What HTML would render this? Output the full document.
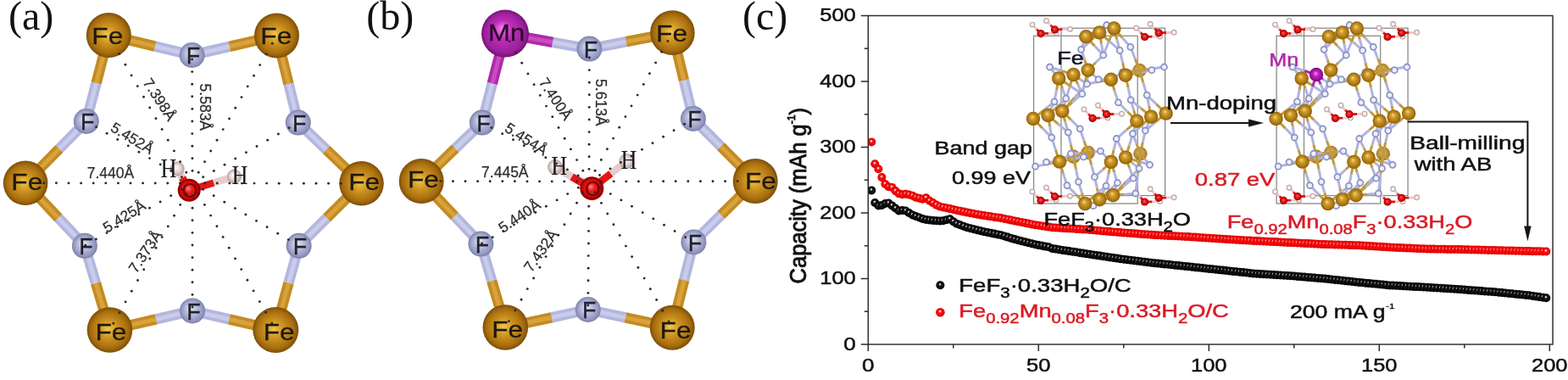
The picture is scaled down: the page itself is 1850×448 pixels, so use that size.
<!DOCTYPE html><html><head><meta charset="utf-8"><style>html,body{margin:0;padding:0;background:#fff;}svg{display:block;filter:blur(0.45px);}</style></head><body><svg width="1850" height="448" viewBox="0 0 1850 448" font-family="'Liberation Sans', Arial, sans-serif"><defs>
<radialGradient id="gFe" cx="0.5" cy="0.5" r="0.5" fx="0.45" fy="0.48">
 <stop offset="0" stop-color="#f2c64a"/><stop offset="0.4" stop-color="#cd9320"/>
 <stop offset="0.82" stop-color="#a66c0e"/><stop offset="1" stop-color="#7a4e08"/></radialGradient>
<radialGradient id="gF" cx="0.5" cy="0.5" r="0.5" fx="0.42" fy="0.38">
 <stop offset="0" stop-color="#e6e8f6"/><stop offset="0.45" stop-color="#b9bddc"/>
 <stop offset="0.85" stop-color="#9096bf"/><stop offset="1" stop-color="#7a80a8"/></radialGradient>
<radialGradient id="gMn" cx="0.5" cy="0.5" r="0.5" fx="0.42" fy="0.38">
 <stop offset="0" stop-color="#f080ea"/><stop offset="0.4" stop-color="#c02cbc"/>
 <stop offset="0.85" stop-color="#98209a"/><stop offset="1" stop-color="#741070"/></radialGradient>
<radialGradient id="gO" cx="0.5" cy="0.5" r="0.5" fx="0.45" fy="0.42">
 <stop offset="0" stop-color="#ff8a8a"/><stop offset="0.3" stop-color="#ee2020"/>
 <stop offset="0.75" stop-color="#d00808"/><stop offset="0.88" stop-color="#8a0000"/><stop offset="1" stop-color="#b00000"/></radialGradient>
<radialGradient id="gH" cx="0.5" cy="0.5" r="0.5" fx="0.42" fy="0.38">
 <stop offset="0" stop-color="#ffffff"/><stop offset="0.5" stop-color="#eadada"/>
 <stop offset="1" stop-color="#b89c9c"/></radialGradient>
<radialGradient id="gBk" cx="0.5" cy="0.5" r="0.5" fx="0.45" fy="0.36">
 <stop offset="0" stop-color="#ffffff"/><stop offset="0.16" stop-color="#bbbbbb"/><stop offset="0.34" stop-color="#1a1a1a"/>
 <stop offset="1" stop-color="#000000"/></radialGradient>
<radialGradient id="gRd" cx="0.5" cy="0.5" r="0.5" fx="0.45" fy="0.36">
 <stop offset="0" stop-color="#ffffff"/><stop offset="0.16" stop-color="#ffb8b8"/><stop offset="0.36" stop-color="#ff1212"/>
 <stop offset="1" stop-color="#dc0000"/></radialGradient>
<radialGradient id="gFes" cx="0.5" cy="0.5" r="0.5" fx="0.42" fy="0.36">
 <stop offset="0" stop-color="#f4d884"/><stop offset="0.35" stop-color="#cf9c2c"/>
 <stop offset="0.8" stop-color="#a8740f"/><stop offset="1" stop-color="#8a5c08"/></radialGradient>
<radialGradient id="gMns" cx="0.5" cy="0.5" r="0.5" fx="0.45" fy="0.4">
 <stop offset="0" stop-color="#f090f0"/><stop offset="0.4" stop-color="#c020c0"/>
 <stop offset="1" stop-color="#800880"/></radialGradient>
</defs><rect width="1850" height="448" fill="#ffffff"/><line x1="128.3" y1="41.5" x2="183.0" y2="54.6" stroke="#c38b22" stroke-width="12.5"/><line x1="183.0" y1="54.6" x2="226.6" y2="65.0" stroke="#b3b7dd" stroke-width="12.5"/><line x1="128.3" y1="41.5" x2="183.0" y2="54.6" stroke="#d9a23c" stroke-width="5.0"/><line x1="183.0" y1="54.6" x2="226.6" y2="65.0" stroke="#c9cceb" stroke-width="5.0"/><line x1="226.6" y1="65.0" x2="270.9" y2="54.8" stroke="#b3b7dd" stroke-width="12.5"/><line x1="270.9" y1="54.8" x2="326.5" y2="42.0" stroke="#c38b22" stroke-width="12.5"/><line x1="226.6" y1="65.0" x2="270.9" y2="54.8" stroke="#c9cceb" stroke-width="5.0"/><line x1="270.9" y1="54.8" x2="326.5" y2="42.0" stroke="#d9a23c" stroke-width="5.0"/><line x1="326.5" y1="42.0" x2="340.5" y2="98.9" stroke="#c38b22" stroke-width="12.5"/><line x1="340.5" y1="98.9" x2="351.8" y2="144.6" stroke="#b3b7dd" stroke-width="12.5"/><line x1="326.5" y1="42.0" x2="340.5" y2="98.9" stroke="#d9a23c" stroke-width="5.0"/><line x1="340.5" y1="98.9" x2="351.8" y2="144.6" stroke="#c9cceb" stroke-width="5.0"/><line x1="351.8" y1="144.6" x2="385.1" y2="176.5" stroke="#b3b7dd" stroke-width="12.5"/><line x1="385.1" y1="176.5" x2="426.5" y2="216.3" stroke="#c38b22" stroke-width="12.5"/><line x1="351.8" y1="144.6" x2="385.1" y2="176.5" stroke="#c9cceb" stroke-width="5.0"/><line x1="385.1" y1="176.5" x2="426.5" y2="216.3" stroke="#d9a23c" stroke-width="5.0"/><line x1="426.5" y1="216.3" x2="385.5" y2="257.0" stroke="#c38b22" stroke-width="12.5"/><line x1="385.5" y1="257.0" x2="352.6" y2="289.8" stroke="#b3b7dd" stroke-width="12.5"/><line x1="426.5" y1="216.3" x2="385.5" y2="257.0" stroke="#d9a23c" stroke-width="5.0"/><line x1="385.5" y1="257.0" x2="352.6" y2="289.8" stroke="#c9cceb" stroke-width="5.0"/><line x1="352.6" y1="289.8" x2="340.5" y2="333.6" stroke="#b3b7dd" stroke-width="12.5"/><line x1="340.5" y1="333.6" x2="325.3" y2="389.0" stroke="#c38b22" stroke-width="12.5"/><line x1="352.6" y1="289.8" x2="340.5" y2="333.6" stroke="#c9cceb" stroke-width="5.0"/><line x1="340.5" y1="333.6" x2="325.3" y2="389.0" stroke="#d9a23c" stroke-width="5.0"/><line x1="325.3" y1="389.0" x2="270.3" y2="376.4" stroke="#c38b22" stroke-width="12.5"/><line x1="270.3" y1="376.4" x2="227.0" y2="366.4" stroke="#b3b7dd" stroke-width="12.5"/><line x1="325.3" y1="389.0" x2="270.3" y2="376.4" stroke="#d9a23c" stroke-width="5.0"/><line x1="270.3" y1="376.4" x2="227.0" y2="366.4" stroke="#c9cceb" stroke-width="5.0"/><line x1="227.0" y1="366.4" x2="184.0" y2="376.4" stroke="#b3b7dd" stroke-width="12.5"/><line x1="184.0" y1="376.4" x2="129.5" y2="389.0" stroke="#c38b22" stroke-width="12.5"/><line x1="227.0" y1="366.4" x2="184.0" y2="376.4" stroke="#c9cceb" stroke-width="5.0"/><line x1="184.0" y1="376.4" x2="129.5" y2="389.0" stroke="#d9a23c" stroke-width="5.0"/><line x1="129.5" y1="389.0" x2="113.0" y2="333.7" stroke="#c38b22" stroke-width="12.5"/><line x1="113.0" y1="333.7" x2="99.9" y2="289.8" stroke="#b3b7dd" stroke-width="12.5"/><line x1="129.5" y1="389.0" x2="113.0" y2="333.7" stroke="#d9a23c" stroke-width="5.0"/><line x1="113.0" y1="333.7" x2="99.9" y2="289.8" stroke="#c9cceb" stroke-width="5.0"/><line x1="99.9" y1="289.8" x2="68.9" y2="256.9" stroke="#b3b7dd" stroke-width="12.5"/><line x1="68.9" y1="256.9" x2="30.1" y2="215.8" stroke="#c38b22" stroke-width="12.5"/><line x1="99.9" y1="289.8" x2="68.9" y2="256.9" stroke="#c9cceb" stroke-width="5.0"/><line x1="68.9" y1="256.9" x2="30.1" y2="215.8" stroke="#d9a23c" stroke-width="5.0"/><line x1="30.1" y1="215.8" x2="69.9" y2="175.4" stroke="#c38b22" stroke-width="12.5"/><line x1="69.9" y1="175.4" x2="101.8" y2="143.0" stroke="#b3b7dd" stroke-width="12.5"/><line x1="30.1" y1="215.8" x2="69.9" y2="175.4" stroke="#d9a23c" stroke-width="5.0"/><line x1="69.9" y1="175.4" x2="101.8" y2="143.0" stroke="#c9cceb" stroke-width="5.0"/><line x1="101.8" y1="143.0" x2="113.6" y2="97.8" stroke="#b3b7dd" stroke-width="12.5"/><line x1="113.6" y1="97.8" x2="128.3" y2="41.5" stroke="#c38b22" stroke-width="12.5"/><line x1="101.8" y1="143.0" x2="113.6" y2="97.8" stroke="#c9cceb" stroke-width="5.0"/><line x1="113.6" y1="97.8" x2="128.3" y2="41.5" stroke="#d9a23c" stroke-width="5.0"/><circle cx="128.3" cy="41.5" r="26.5" fill="url(#gFe)"/><circle cx="226.6" cy="65.0" r="15" fill="url(#gF)"/><circle cx="326.5" cy="42.0" r="26.5" fill="url(#gFe)"/><circle cx="351.8" cy="144.6" r="15" fill="url(#gF)"/><circle cx="426.5" cy="216.3" r="26.3" fill="url(#gFe)"/><circle cx="352.6" cy="289.8" r="15" fill="url(#gF)"/><circle cx="325.3" cy="389.0" r="27" fill="url(#gFe)"/><circle cx="227.0" cy="366.4" r="15" fill="url(#gF)"/><circle cx="129.5" cy="389.0" r="26.8" fill="url(#gFe)"/><circle cx="99.9" cy="289.8" r="15" fill="url(#gF)"/><circle cx="30.1" cy="215.8" r="26.3" fill="url(#gFe)"/><circle cx="101.8" cy="143.0" r="15" fill="url(#gF)"/><line x1="223.2" y1="224.2" x2="215.0" y2="209.5" stroke="#e01818" stroke-width="9"/><line x1="215.0" y1="209.5" x2="209.2" y2="199.1" stroke="#e6cccc" stroke-width="9"/><line x1="223.2" y1="224.2" x2="252.2" y2="215.5" stroke="#e01818" stroke-width="8.5"/><line x1="252.2" y1="215.5" x2="276.4" y2="208.2" stroke="#e6cccc" stroke-width="8.5"/><circle cx="209.2" cy="199.1" r="8.5" fill="url(#gH)"/><circle cx="276.4" cy="208.2" r="8.5" fill="url(#gH)"/><circle cx="223.2" cy="224.2" r="13.5" fill="url(#gO)"/><text x="126.8" y="52.0" font-size="28.5" text-anchor="middle" fill="#1e1a10" stroke="#1e1a10" stroke-width="0.3" textLength="37" lengthAdjust="spacingAndGlyphs">Fe</text><text x="228.1" y="75.3" font-size="27" text-anchor="middle" fill="#20222e" stroke="#20222e" stroke-width="0.3">F</text><text x="325.8" y="51.7" font-size="28.5" text-anchor="middle" fill="#1e1a10" stroke="#1e1a10" stroke-width="0.3" textLength="37" lengthAdjust="spacingAndGlyphs">Fe</text><text x="353.3" y="154.9" font-size="27" text-anchor="middle" fill="#20222e" stroke="#20222e" stroke-width="0.3">F</text><text x="429.7" y="224.4" font-size="28.5" text-anchor="middle" fill="#1e1a10" stroke="#1e1a10" stroke-width="0.3" textLength="37" lengthAdjust="spacingAndGlyphs">Fe</text><text x="354.1" y="300.1" font-size="27" text-anchor="middle" fill="#20222e" stroke="#20222e" stroke-width="0.3">F</text><text x="329.2" y="400.9" font-size="28.5" text-anchor="middle" fill="#1e1a10" stroke="#1e1a10" stroke-width="0.3" textLength="37" lengthAdjust="spacingAndGlyphs">Fe</text><text x="228.5" y="376.7" font-size="27" text-anchor="middle" fill="#20222e" stroke="#20222e" stroke-width="0.3">F</text><text x="131.0" y="401.3" font-size="28.5" text-anchor="middle" fill="#1e1a10" stroke="#1e1a10" stroke-width="0.3" textLength="37" lengthAdjust="spacingAndGlyphs">Fe</text><text x="101.4" y="300.1" font-size="27" text-anchor="middle" fill="#20222e" stroke="#20222e" stroke-width="0.3">F</text><text x="31.8" y="224.2" font-size="28.5" text-anchor="middle" fill="#1e1a10" stroke="#1e1a10" stroke-width="0.3" textLength="37" lengthAdjust="spacingAndGlyphs">Fe</text><text x="103.3" y="153.3" font-size="27" text-anchor="middle" fill="#20222e" stroke="#20222e" stroke-width="0.3">F</text><text x="224.2" y="233.2" font-size="24" text-anchor="middle" fill="#7a0000">O</text><text x="199.0" y="209.0" font-size="32" font-family="'Liberation Serif', 'Times New Roman', serif" text-anchor="middle" fill="#1a1a1a" textLength="19" lengthAdjust="spacingAndGlyphs">H</text><text x="283.0" y="217.0" font-size="32" font-family="'Liberation Serif', 'Times New Roman', serif" text-anchor="middle" fill="#1a1a1a" textLength="19" lengthAdjust="spacingAndGlyphs">H</text><g fill="#2a2a2a"><circle cx="219.8" cy="203.3" r="1.45"/><circle cx="212.6" cy="190.6" r="1.45"/><circle cx="205.4" cy="177.9" r="1.45"/><circle cx="198.2" cy="165.2" r="1.45"/><circle cx="191.1" cy="152.5" r="1.45"/><circle cx="183.9" cy="139.8" r="1.45"/><circle cx="176.7" cy="127.0" r="1.45"/><circle cx="169.5" cy="114.3" r="1.45"/><circle cx="162.3" cy="101.6" r="1.45"/><circle cx="155.1" cy="88.9" r="1.45"/><circle cx="147.9" cy="76.2" r="1.45"/><circle cx="140.7" cy="63.5" r="1.45"/><circle cx="133.6" cy="50.8" r="1.45"/><circle cx="227.0" cy="201.4" r="1.45"/><circle cx="226.9" cy="186.8" r="1.45"/><circle cx="226.9" cy="172.2" r="1.45"/><circle cx="226.8" cy="157.6" r="1.45"/><circle cx="226.8" cy="143.0" r="1.45"/><circle cx="226.8" cy="128.4" r="1.45"/><circle cx="226.7" cy="113.8" r="1.45"/><circle cx="226.7" cy="99.2" r="1.45"/><circle cx="226.7" cy="84.6" r="1.45"/><circle cx="226.6" cy="70.0" r="1.45"/><circle cx="234.2" cy="203.3" r="1.45"/><circle cx="241.5" cy="190.7" r="1.45"/><circle cx="248.7" cy="178.0" r="1.45"/><circle cx="256.0" cy="165.3" r="1.45"/><circle cx="263.2" cy="152.6" r="1.45"/><circle cx="270.5" cy="140.0" r="1.45"/><circle cx="277.7" cy="127.3" r="1.45"/><circle cx="285.0" cy="114.6" r="1.45"/><circle cx="292.2" cy="101.9" r="1.45"/><circle cx="299.5" cy="89.3" r="1.45"/><circle cx="306.7" cy="76.6" r="1.45"/><circle cx="314.0" cy="63.9" r="1.45"/><circle cx="321.2" cy="51.2" r="1.45"/><circle cx="239.7" cy="208.7" r="1.45"/><circle cx="252.3" cy="201.5" r="1.45"/><circle cx="265.0" cy="194.2" r="1.45"/><circle cx="277.7" cy="187.0" r="1.45"/><circle cx="290.4" cy="179.7" r="1.45"/><circle cx="303.0" cy="172.5" r="1.45"/><circle cx="315.7" cy="165.2" r="1.45"/><circle cx="328.4" cy="158.0" r="1.45"/><circle cx="341.1" cy="150.7" r="1.45"/><circle cx="241.6" cy="216.0" r="1.45"/><circle cx="256.2" cy="216.0" r="1.45"/><circle cx="270.8" cy="216.1" r="1.45"/><circle cx="285.4" cy="216.1" r="1.45"/><circle cx="300.0" cy="216.1" r="1.45"/><circle cx="314.6" cy="216.1" r="1.45"/><circle cx="329.2" cy="216.2" r="1.45"/><circle cx="343.8" cy="216.2" r="1.45"/><circle cx="358.4" cy="216.2" r="1.45"/><circle cx="373.0" cy="216.2" r="1.45"/><circle cx="387.6" cy="216.2" r="1.45"/><circle cx="402.2" cy="216.3" r="1.45"/><circle cx="416.8" cy="216.3" r="1.45"/><circle cx="239.6" cy="223.4" r="1.45"/><circle cx="252.2" cy="230.8" r="1.45"/><circle cx="264.8" cy="238.2" r="1.45"/><circle cx="277.4" cy="245.6" r="1.45"/><circle cx="289.9" cy="253.0" r="1.45"/><circle cx="302.5" cy="260.4" r="1.45"/><circle cx="315.1" cy="267.8" r="1.45"/><circle cx="327.7" cy="275.2" r="1.45"/><circle cx="340.3" cy="282.6" r="1.45"/><circle cx="234.2" cy="228.7" r="1.45"/><circle cx="241.4" cy="241.4" r="1.45"/><circle cx="248.6" cy="254.1" r="1.45"/><circle cx="255.9" cy="266.8" r="1.45"/><circle cx="263.1" cy="279.5" r="1.45"/><circle cx="270.3" cy="292.2" r="1.45"/><circle cx="277.5" cy="304.9" r="1.45"/><circle cx="284.7" cy="317.6" r="1.45"/><circle cx="291.9" cy="330.2" r="1.45"/><circle cx="299.1" cy="342.9" r="1.45"/><circle cx="306.3" cy="355.6" r="1.45"/><circle cx="313.6" cy="368.3" r="1.45"/><circle cx="320.8" cy="381.0" r="1.45"/><circle cx="227.0" cy="230.6" r="1.45"/><circle cx="227.0" cy="245.2" r="1.45"/><circle cx="227.0" cy="259.8" r="1.45"/><circle cx="227.0" cy="274.4" r="1.45"/><circle cx="227.0" cy="289.0" r="1.45"/><circle cx="227.0" cy="303.6" r="1.45"/><circle cx="227.0" cy="318.2" r="1.45"/><circle cx="227.0" cy="332.8" r="1.45"/><circle cx="227.0" cy="347.4" r="1.45"/><circle cx="227.0" cy="362.0" r="1.45"/><circle cx="219.8" cy="228.7" r="1.45"/><circle cx="212.7" cy="241.4" r="1.45"/><circle cx="205.5" cy="254.2" r="1.45"/><circle cx="198.3" cy="266.9" r="1.45"/><circle cx="191.2" cy="279.6" r="1.45"/><circle cx="184.0" cy="292.3" r="1.45"/><circle cx="176.8" cy="305.0" r="1.45"/><circle cx="169.7" cy="317.8" r="1.45"/><circle cx="162.5" cy="330.5" r="1.45"/><circle cx="155.3" cy="343.2" r="1.45"/><circle cx="148.1" cy="355.9" r="1.45"/><circle cx="141.0" cy="368.6" r="1.45"/><circle cx="133.8" cy="381.3" r="1.45"/><circle cx="214.4" cy="223.3" r="1.45"/><circle cx="201.7" cy="230.7" r="1.45"/><circle cx="189.1" cy="238.0" r="1.45"/><circle cx="176.5" cy="245.3" r="1.45"/><circle cx="163.9" cy="252.7" r="1.45"/><circle cx="151.2" cy="260.0" r="1.45"/><circle cx="138.6" cy="267.3" r="1.45"/><circle cx="126.0" cy="274.6" r="1.45"/><circle cx="113.4" cy="282.0" r="1.45"/><circle cx="100.7" cy="289.3" r="1.45"/><circle cx="212.4" cy="216.0" r="1.45"/><circle cx="197.8" cy="216.0" r="1.45"/><circle cx="183.2" cy="216.0" r="1.45"/><circle cx="168.6" cy="215.9" r="1.45"/><circle cx="154.0" cy="215.9" r="1.45"/><circle cx="139.4" cy="215.9" r="1.45"/><circle cx="124.8" cy="215.9" r="1.45"/><circle cx="110.2" cy="215.9" r="1.45"/><circle cx="95.6" cy="215.9" r="1.45"/><circle cx="81.0" cy="215.9" r="1.45"/><circle cx="66.4" cy="215.8" r="1.45"/><circle cx="51.8" cy="215.8" r="1.45"/><circle cx="37.2" cy="215.8" r="1.45"/><circle cx="214.4" cy="208.6" r="1.45"/><circle cx="201.8" cy="201.3" r="1.45"/><circle cx="189.2" cy="193.9" r="1.45"/><circle cx="176.5" cy="186.6" r="1.45"/><circle cx="163.9" cy="179.2" r="1.45"/><circle cx="151.3" cy="171.9" r="1.45"/><circle cx="138.7" cy="164.5" r="1.45"/><circle cx="126.1" cy="157.2" r="1.45"/><circle cx="113.5" cy="149.8" r="1.45"/></g><text transform="translate(188.5,117.0) rotate(57)" x="0" y="6.3" font-size="17.5" fill="#2e2e2e" stroke="#2e2e2e" stroke-width="0.25" text-anchor="middle" >7.398Å</text><text transform="translate(242.7,126.3) rotate(90)" x="0" y="6.3" font-size="17.5" fill="#2e2e2e" stroke="#2e2e2e" stroke-width="0.25" text-anchor="middle" >5.583Å</text><text transform="translate(156.2,162.5) rotate(31)" x="0" y="6.3" font-size="17.5" fill="#2e2e2e" stroke="#2e2e2e" stroke-width="0.25" text-anchor="middle" >5.452Å</text><text transform="translate(146.3,254.9) rotate(-32)" x="0" y="6.3" font-size="17.5" fill="#2e2e2e" stroke="#2e2e2e" stroke-width="0.25" text-anchor="middle" >5.425Å</text><text transform="translate(171.0,296.4) rotate(-56)" x="0" y="6.3" font-size="17.5" fill="#2e2e2e" stroke="#2e2e2e" stroke-width="0.25" text-anchor="middle" >7.373Å</text><text transform="translate(130.4,203.5) rotate(0)" x="0" y="6.3" font-size="17.5" fill="#2e2e2e" stroke="#2e2e2e" stroke-width="0.25" text-anchor="middle" >7.440Å</text><line x1="596.0" y1="39.6" x2="652.1" y2="49.8" stroke="#b02aa8" stroke-width="12.5"/><line x1="652.1" y1="49.8" x2="695.4" y2="57.6" stroke="#b3b7dd" stroke-width="12.5"/><line x1="596.0" y1="39.6" x2="652.1" y2="49.8" stroke="#c84cc0" stroke-width="5.0"/><line x1="652.1" y1="49.8" x2="695.4" y2="57.6" stroke="#c9cceb" stroke-width="5.0"/><line x1="695.4" y1="57.6" x2="738.9" y2="49.2" stroke="#b3b7dd" stroke-width="12.5"/><line x1="738.9" y1="49.2" x2="793.4" y2="38.6" stroke="#c38b22" stroke-width="12.5"/><line x1="695.4" y1="57.6" x2="738.9" y2="49.2" stroke="#c9cceb" stroke-width="5.0"/><line x1="738.9" y1="49.2" x2="793.4" y2="38.6" stroke="#d9a23c" stroke-width="5.0"/><line x1="793.4" y1="38.6" x2="807.0" y2="94.8" stroke="#c38b22" stroke-width="12.5"/><line x1="807.0" y1="94.8" x2="817.9" y2="140.0" stroke="#b3b7dd" stroke-width="12.5"/><line x1="793.4" y1="38.6" x2="807.0" y2="94.8" stroke="#d9a23c" stroke-width="5.0"/><line x1="807.0" y1="94.8" x2="817.9" y2="140.0" stroke="#c9cceb" stroke-width="5.0"/><line x1="817.9" y1="140.0" x2="850.5" y2="172.7" stroke="#b3b7dd" stroke-width="12.5"/><line x1="850.5" y1="172.7" x2="891.2" y2="213.6" stroke="#c38b22" stroke-width="12.5"/><line x1="817.9" y1="140.0" x2="850.5" y2="172.7" stroke="#c9cceb" stroke-width="5.0"/><line x1="850.5" y1="172.7" x2="891.2" y2="213.6" stroke="#d9a23c" stroke-width="5.0"/><line x1="891.2" y1="213.6" x2="850.7" y2="253.5" stroke="#c38b22" stroke-width="12.5"/><line x1="850.7" y1="253.5" x2="818.4" y2="285.4" stroke="#b3b7dd" stroke-width="12.5"/><line x1="891.2" y1="213.6" x2="850.7" y2="253.5" stroke="#d9a23c" stroke-width="5.0"/><line x1="850.7" y1="253.5" x2="818.4" y2="285.4" stroke="#c9cceb" stroke-width="5.0"/><line x1="818.4" y1="285.4" x2="807.2" y2="330.2" stroke="#b3b7dd" stroke-width="12.5"/><line x1="807.2" y1="330.2" x2="793.2" y2="386.2" stroke="#c38b22" stroke-width="12.5"/><line x1="818.4" y1="285.4" x2="807.2" y2="330.2" stroke="#c9cceb" stroke-width="5.0"/><line x1="807.2" y1="330.2" x2="793.2" y2="386.2" stroke="#d9a23c" stroke-width="5.0"/><line x1="793.2" y1="386.2" x2="737.8" y2="374.4" stroke="#c38b22" stroke-width="12.5"/><line x1="737.8" y1="374.4" x2="693.7" y2="365.0" stroke="#b3b7dd" stroke-width="12.5"/><line x1="793.2" y1="386.2" x2="737.8" y2="374.4" stroke="#d9a23c" stroke-width="5.0"/><line x1="737.8" y1="374.4" x2="693.7" y2="365.0" stroke="#c9cceb" stroke-width="5.0"/><line x1="693.7" y1="365.0" x2="650.8" y2="374.3" stroke="#b3b7dd" stroke-width="12.5"/><line x1="650.8" y1="374.3" x2="596.3" y2="386.0" stroke="#c38b22" stroke-width="12.5"/><line x1="693.7" y1="365.0" x2="650.8" y2="374.3" stroke="#c9cceb" stroke-width="5.0"/><line x1="650.8" y1="374.3" x2="596.3" y2="386.0" stroke="#d9a23c" stroke-width="5.0"/><line x1="596.3" y1="386.0" x2="580.2" y2="331.1" stroke="#c38b22" stroke-width="12.5"/><line x1="580.2" y1="331.1" x2="567.4" y2="287.6" stroke="#b3b7dd" stroke-width="12.5"/><line x1="596.3" y1="386.0" x2="580.2" y2="331.1" stroke="#d9a23c" stroke-width="5.0"/><line x1="580.2" y1="331.1" x2="567.4" y2="287.6" stroke="#c9cceb" stroke-width="5.0"/><line x1="567.4" y1="287.6" x2="536.3" y2="254.8" stroke="#b3b7dd" stroke-width="12.5"/><line x1="536.3" y1="254.8" x2="497.2" y2="213.6" stroke="#c38b22" stroke-width="12.5"/><line x1="567.4" y1="287.6" x2="536.3" y2="254.8" stroke="#c9cceb" stroke-width="5.0"/><line x1="536.3" y1="254.8" x2="497.2" y2="213.6" stroke="#d9a23c" stroke-width="5.0"/><line x1="497.2" y1="213.6" x2="537.2" y2="175.1" stroke="#c38b22" stroke-width="12.5"/><line x1="537.2" y1="175.1" x2="568.9" y2="144.6" stroke="#b3b7dd" stroke-width="12.5"/><line x1="497.2" y1="213.6" x2="537.2" y2="175.1" stroke="#d9a23c" stroke-width="5.0"/><line x1="537.2" y1="175.1" x2="568.9" y2="144.6" stroke="#c9cceb" stroke-width="5.0"/><line x1="568.9" y1="144.6" x2="580.8" y2="98.4" stroke="#b3b7dd" stroke-width="12.5"/><line x1="580.8" y1="98.4" x2="596.0" y2="39.6" stroke="#b02aa8" stroke-width="12.5"/><line x1="568.9" y1="144.6" x2="580.8" y2="98.4" stroke="#c9cceb" stroke-width="5.0"/><line x1="580.8" y1="98.4" x2="596.0" y2="39.6" stroke="#c84cc0" stroke-width="5.0"/><circle cx="596.0" cy="39.6" r="28" fill="url(#gMn)"/><circle cx="695.4" cy="57.6" r="15" fill="url(#gF)"/><circle cx="793.4" cy="38.6" r="26.3" fill="url(#gFe)"/><circle cx="817.9" cy="140.0" r="15" fill="url(#gF)"/><circle cx="891.2" cy="213.6" r="26.5" fill="url(#gFe)"/><circle cx="818.4" cy="285.4" r="15" fill="url(#gF)"/><circle cx="793.2" cy="386.2" r="26.5" fill="url(#gFe)"/><circle cx="693.7" cy="365.0" r="15" fill="url(#gF)"/><circle cx="596.3" cy="386.0" r="26.8" fill="url(#gFe)"/><circle cx="567.4" cy="287.6" r="15" fill="url(#gF)"/><circle cx="497.2" cy="213.6" r="26.5" fill="url(#gFe)"/><circle cx="568.9" cy="144.6" r="15" fill="url(#gF)"/><line x1="698.3" y1="222.2" x2="674.5" y2="208.4" stroke="#e01818" stroke-width="9"/><line x1="674.5" y1="208.4" x2="655.1" y2="197.1" stroke="#e6cccc" stroke-width="9"/><line x1="698.3" y1="222.2" x2="720.8" y2="204.6" stroke="#e01818" stroke-width="8.5"/><line x1="720.8" y1="204.6" x2="739.4" y2="190.1" stroke="#e6cccc" stroke-width="8.5"/><circle cx="655.1" cy="197.1" r="9" fill="url(#gH)"/><circle cx="739.4" cy="190.1" r="9" fill="url(#gH)"/><circle cx="698.3" cy="222.2" r="14" fill="url(#gO)"/><text x="597.6" y="47.9" font-size="28.5" text-anchor="middle" fill="#2a0828" stroke="#2a0828" stroke-width="0.3" textLength="43" lengthAdjust="spacingAndGlyphs">Mn</text><text x="696.9" y="67.9" font-size="27" text-anchor="middle" fill="#20222e" stroke="#20222e" stroke-width="0.3">F</text><text x="792.6" y="49.4" font-size="28.5" text-anchor="middle" fill="#1e1a10" stroke="#1e1a10" stroke-width="0.3" textLength="37" lengthAdjust="spacingAndGlyphs">Fe</text><text x="819.4" y="150.3" font-size="27" text-anchor="middle" fill="#20222e" stroke="#20222e" stroke-width="0.3">F</text><text x="897.5" y="222.7" font-size="28.5" text-anchor="middle" fill="#1e1a10" stroke="#1e1a10" stroke-width="0.3" textLength="37" lengthAdjust="spacingAndGlyphs">Fe</text><text x="819.9" y="295.7" font-size="27" text-anchor="middle" fill="#20222e" stroke="#20222e" stroke-width="0.3">F</text><text x="797.1" y="398.5" font-size="28.5" text-anchor="middle" fill="#1e1a10" stroke="#1e1a10" stroke-width="0.3" textLength="37" lengthAdjust="spacingAndGlyphs">Fe</text><text x="695.2" y="375.3" font-size="27" text-anchor="middle" fill="#20222e" stroke="#20222e" stroke-width="0.3">F</text><text x="598.7" y="397.5" font-size="28.5" text-anchor="middle" fill="#1e1a10" stroke="#1e1a10" stroke-width="0.3" textLength="37" lengthAdjust="spacingAndGlyphs">Fe</text><text x="568.9" y="297.9" font-size="27" text-anchor="middle" fill="#20222e" stroke="#20222e" stroke-width="0.3">F</text><text x="499.5" y="220.8" font-size="28.5" text-anchor="middle" fill="#1e1a10" stroke="#1e1a10" stroke-width="0.3" textLength="37" lengthAdjust="spacingAndGlyphs">Fe</text><text x="570.4" y="154.9" font-size="27" text-anchor="middle" fill="#20222e" stroke="#20222e" stroke-width="0.3">F</text><text x="699.3" y="231.2" font-size="24" text-anchor="middle" fill="#7a0000">O</text><text x="659.7" y="206.0" font-size="32" font-family="'Liberation Serif', 'Times New Roman', serif" text-anchor="middle" fill="#1a1a1a" textLength="19" lengthAdjust="spacingAndGlyphs">H</text><text x="742.0" y="199.0" font-size="32" font-family="'Liberation Serif', 'Times New Roman', serif" text-anchor="middle" fill="#1a1a1a" textLength="19" lengthAdjust="spacingAndGlyphs">H</text><g fill="#2a2a2a"><circle cx="687.8" cy="201.3" r="1.45"/><circle cx="680.6" cy="188.6" r="1.45"/><circle cx="673.4" cy="175.9" r="1.45"/><circle cx="666.2" cy="163.2" r="1.45"/><circle cx="659.0" cy="150.5" r="1.45"/><circle cx="651.8" cy="137.8" r="1.45"/><circle cx="644.5" cy="125.1" r="1.45"/><circle cx="637.3" cy="112.4" r="1.45"/><circle cx="630.1" cy="99.7" r="1.45"/><circle cx="622.9" cy="87.0" r="1.45"/><circle cx="615.7" cy="74.3" r="1.45"/><circle cx="608.5" cy="61.6" r="1.45"/><circle cx="601.3" cy="48.9" r="1.45"/><circle cx="695.0" cy="199.4" r="1.45"/><circle cx="695.1" cy="184.8" r="1.45"/><circle cx="695.1" cy="170.2" r="1.45"/><circle cx="695.1" cy="155.6" r="1.45"/><circle cx="695.2" cy="141.0" r="1.45"/><circle cx="695.2" cy="126.4" r="1.45"/><circle cx="695.3" cy="111.8" r="1.45"/><circle cx="695.3" cy="97.2" r="1.45"/><circle cx="695.3" cy="82.6" r="1.45"/><circle cx="695.4" cy="68.0" r="1.45"/><circle cx="702.1" cy="201.3" r="1.45"/><circle cx="709.3" cy="188.5" r="1.45"/><circle cx="716.4" cy="175.8" r="1.45"/><circle cx="723.6" cy="163.1" r="1.45"/><circle cx="730.7" cy="150.3" r="1.45"/><circle cx="737.9" cy="137.6" r="1.45"/><circle cx="745.0" cy="124.9" r="1.45"/><circle cx="752.1" cy="112.1" r="1.45"/><circle cx="759.3" cy="99.4" r="1.45"/><circle cx="766.4" cy="86.7" r="1.45"/><circle cx="773.6" cy="73.9" r="1.45"/><circle cx="780.7" cy="61.2" r="1.45"/><circle cx="787.9" cy="48.5" r="1.45"/><circle cx="707.5" cy="206.5" r="1.45"/><circle cx="720.0" cy="198.9" r="1.45"/><circle cx="732.5" cy="191.4" r="1.45"/><circle cx="745.0" cy="183.9" r="1.45"/><circle cx="757.5" cy="176.3" r="1.45"/><circle cx="770.0" cy="168.8" r="1.45"/><circle cx="782.6" cy="161.3" r="1.45"/><circle cx="795.1" cy="153.8" r="1.45"/><circle cx="807.6" cy="146.2" r="1.45"/><circle cx="709.6" cy="214.0" r="1.45"/><circle cx="724.2" cy="213.9" r="1.45"/><circle cx="738.8" cy="213.9" r="1.45"/><circle cx="753.4" cy="213.9" r="1.45"/><circle cx="768.0" cy="213.9" r="1.45"/><circle cx="782.6" cy="213.8" r="1.45"/><circle cx="797.2" cy="213.8" r="1.45"/><circle cx="811.8" cy="213.8" r="1.45"/><circle cx="826.4" cy="213.7" r="1.45"/><circle cx="841.0" cy="213.7" r="1.45"/><circle cx="855.6" cy="213.7" r="1.45"/><circle cx="870.2" cy="213.6" r="1.45"/><circle cx="884.8" cy="213.6" r="1.45"/><circle cx="707.6" cy="221.3" r="1.45"/><circle cx="720.3" cy="228.6" r="1.45"/><circle cx="732.9" cy="235.9" r="1.45"/><circle cx="745.5" cy="243.2" r="1.45"/><circle cx="758.2" cy="250.6" r="1.45"/><circle cx="770.8" cy="257.9" r="1.45"/><circle cx="783.5" cy="265.2" r="1.45"/><circle cx="796.1" cy="272.5" r="1.45"/><circle cx="808.7" cy="279.8" r="1.45"/><circle cx="702.2" cy="226.7" r="1.45"/><circle cx="709.5" cy="239.4" r="1.45"/><circle cx="716.7" cy="252.0" r="1.45"/><circle cx="723.9" cy="264.7" r="1.45"/><circle cx="731.2" cy="277.4" r="1.45"/><circle cx="738.4" cy="290.1" r="1.45"/><circle cx="745.6" cy="302.8" r="1.45"/><circle cx="752.9" cy="315.5" r="1.45"/><circle cx="760.1" cy="328.1" r="1.45"/><circle cx="767.3" cy="340.8" r="1.45"/><circle cx="774.6" cy="353.5" r="1.45"/><circle cx="781.8" cy="366.2" r="1.45"/><circle cx="789.0" cy="378.9" r="1.45"/><circle cx="694.9" cy="228.6" r="1.45"/><circle cx="694.7" cy="243.2" r="1.45"/><circle cx="694.6" cy="257.8" r="1.45"/><circle cx="694.5" cy="272.4" r="1.45"/><circle cx="694.4" cy="287.0" r="1.45"/><circle cx="694.2" cy="301.6" r="1.45"/><circle cx="694.1" cy="316.2" r="1.45"/><circle cx="694.0" cy="330.8" r="1.45"/><circle cx="693.9" cy="345.4" r="1.45"/><circle cx="693.7" cy="360.0" r="1.45"/><circle cx="687.7" cy="226.7" r="1.45"/><circle cx="680.5" cy="239.3" r="1.45"/><circle cx="673.2" cy="252.0" r="1.45"/><circle cx="665.9" cy="264.7" r="1.45"/><circle cx="658.7" cy="277.3" r="1.45"/><circle cx="651.4" cy="290.0" r="1.45"/><circle cx="644.1" cy="302.6" r="1.45"/><circle cx="636.9" cy="315.3" r="1.45"/><circle cx="629.6" cy="328.0" r="1.45"/><circle cx="622.3" cy="340.6" r="1.45"/><circle cx="615.1" cy="353.3" r="1.45"/><circle cx="607.8" cy="366.0" r="1.45"/><circle cx="600.5" cy="378.6" r="1.45"/><circle cx="682.4" cy="221.3" r="1.45"/><circle cx="669.7" cy="228.6" r="1.45"/><circle cx="657.1" cy="235.9" r="1.45"/><circle cx="644.4" cy="243.2" r="1.45"/><circle cx="631.8" cy="250.5" r="1.45"/><circle cx="619.1" cy="257.8" r="1.45"/><circle cx="606.5" cy="265.1" r="1.45"/><circle cx="593.8" cy="272.4" r="1.45"/><circle cx="581.2" cy="279.7" r="1.45"/><circle cx="568.5" cy="286.9" r="1.45"/><circle cx="680.4" cy="214.0" r="1.45"/><circle cx="665.8" cy="213.9" r="1.45"/><circle cx="651.2" cy="213.9" r="1.45"/><circle cx="636.6" cy="213.9" r="1.45"/><circle cx="622.0" cy="213.9" r="1.45"/><circle cx="607.4" cy="213.8" r="1.45"/><circle cx="592.8" cy="213.8" r="1.45"/><circle cx="578.2" cy="213.8" r="1.45"/><circle cx="563.6" cy="213.7" r="1.45"/><circle cx="549.0" cy="213.7" r="1.45"/><circle cx="534.4" cy="213.7" r="1.45"/><circle cx="519.8" cy="213.6" r="1.45"/><circle cx="505.2" cy="213.6" r="1.45"/><circle cx="682.2" cy="207.0" r="1.45"/><circle cx="669.4" cy="199.9" r="1.45"/><circle cx="656.6" cy="192.9" r="1.45"/><circle cx="643.8" cy="185.8" r="1.45"/><circle cx="631.0" cy="178.8" r="1.45"/><circle cx="618.3" cy="171.8" r="1.45"/><circle cx="605.5" cy="164.7" r="1.45"/><circle cx="592.7" cy="157.7" r="1.45"/><circle cx="579.9" cy="150.6" r="1.45"/></g><text transform="translate(655.8,116.5) rotate(56.5)" x="0" y="6.3" font-size="17.5" fill="#2e2e2e" stroke="#2e2e2e" stroke-width="0.25" text-anchor="middle" >7.400Å</text><text transform="translate(709.5,120.8) rotate(90)" x="0" y="6.3" font-size="17.5" fill="#2e2e2e" stroke="#2e2e2e" stroke-width="0.25" text-anchor="middle" >5.613Å</text><text transform="translate(621.0,163.7) rotate(32.5)" x="0" y="6.3" font-size="17.5" fill="#2e2e2e" stroke="#2e2e2e" stroke-width="0.25" text-anchor="middle" >5.454Å</text><text transform="translate(612.7,254.5) rotate(-34)" x="0" y="6.3" font-size="17.5" fill="#2e2e2e" stroke="#2e2e2e" stroke-width="0.25" text-anchor="middle" >5.440Å</text><text transform="translate(637.8,295.4) rotate(-55)" x="0" y="6.3" font-size="17.5" fill="#2e2e2e" stroke="#2e2e2e" stroke-width="0.25" text-anchor="middle" >7.432Å</text><text transform="translate(595.8,203.0) rotate(0)" x="0" y="6.3" font-size="17.5" fill="#2e2e2e" stroke="#2e2e2e" stroke-width="0.25" text-anchor="middle" >7.445Å</text><text x="10" y="34.5" font-family="'Liberation Serif', 'Times New Roman', serif" font-size="48" fill="#111">(a)</text><text x="432.3" y="34.5" font-family="'Liberation Serif', 'Times New Roman', serif" font-size="48" fill="#111">(b)</text><text x="876" y="34.5" font-family="'Liberation Serif', 'Times New Roman', serif" font-size="48" fill="#111">(c)</text><rect x="1024.3" y="18.5" width="807.7" height="387.5" fill="none" stroke="#2b2b2b" stroke-width="1.45"/><g stroke="#2b2b2b" stroke-width="1.5"><line x1="1015.8" y1="406.0" x2="1024.3" y2="406.0"/><line x1="1019.8" y1="367.2" x2="1024.3" y2="367.2"/><line x1="1015.8" y1="328.5" x2="1024.3" y2="328.5"/><line x1="1019.8" y1="289.8" x2="1024.3" y2="289.8"/><line x1="1015.8" y1="251.0" x2="1024.3" y2="251.0"/><line x1="1019.8" y1="212.2" x2="1024.3" y2="212.2"/><line x1="1015.8" y1="173.5" x2="1024.3" y2="173.5"/><line x1="1019.8" y1="134.8" x2="1024.3" y2="134.8"/><line x1="1015.8" y1="96.0" x2="1024.3" y2="96.0"/><line x1="1019.8" y1="57.2" x2="1024.3" y2="57.2"/><line x1="1015.8" y1="18.5" x2="1024.3" y2="18.5"/><line x1="1024.3" y1="406" x2="1024.3" y2="414"/><line x1="1124.8" y1="406" x2="1124.8" y2="410.5"/><line x1="1225.3" y1="406" x2="1225.3" y2="414"/><line x1="1325.8" y1="406" x2="1325.8" y2="410.5"/><line x1="1426.3" y1="406" x2="1426.3" y2="414"/><line x1="1526.8" y1="406" x2="1526.8" y2="410.5"/><line x1="1627.3" y1="406" x2="1627.3" y2="414"/><line x1="1727.8" y1="406" x2="1727.8" y2="410.5"/><line x1="1828.3" y1="406" x2="1828.3" y2="414"/></g><text x="995.3" y="412.6" font-size="22.5" fill="#111" stroke="#111" stroke-width="0.5" text-anchor="start" font-weight="normal" textLength="14.5" lengthAdjust="spacingAndGlyphs" >0</text><text x="967.3" y="335.1" font-size="22.5" fill="#111" stroke="#111" stroke-width="0.5" text-anchor="start" font-weight="normal" textLength="42.5" lengthAdjust="spacingAndGlyphs" >100</text><text x="967.3" y="257.6" font-size="22.5" fill="#111" stroke="#111" stroke-width="0.5" text-anchor="start" font-weight="normal" textLength="42.5" lengthAdjust="spacingAndGlyphs" >200</text><text x="967.3" y="180.1" font-size="22.5" fill="#111" stroke="#111" stroke-width="0.5" text-anchor="start" font-weight="normal" textLength="42.5" lengthAdjust="spacingAndGlyphs" >300</text><text x="967.3" y="102.6" font-size="22.5" fill="#111" stroke="#111" stroke-width="0.5" text-anchor="start" font-weight="normal" textLength="42.5" lengthAdjust="spacingAndGlyphs" >400</text><text x="967.3" y="25.1" font-size="22.5" fill="#111" stroke="#111" stroke-width="0.5" text-anchor="start" font-weight="normal" textLength="42.5" lengthAdjust="spacingAndGlyphs" >500</text><text x="1017.0" y="437.5" font-size="22.5" fill="#111" stroke="#111" stroke-width="0.5" text-anchor="start" font-weight="normal" textLength="14.5" lengthAdjust="spacingAndGlyphs" >0</text><text x="1211.0" y="437.5" font-size="22.5" fill="#111" stroke="#111" stroke-width="0.5" text-anchor="start" font-weight="normal" textLength="28.5" lengthAdjust="spacingAndGlyphs" >50</text><text x="1405.0" y="437.5" font-size="22.5" fill="#111" stroke="#111" stroke-width="0.5" text-anchor="start" font-weight="normal" textLength="42.5" lengthAdjust="spacingAndGlyphs" >100</text><text x="1606.0" y="437.5" font-size="22.5" fill="#111" stroke="#111" stroke-width="0.5" text-anchor="start" font-weight="normal" textLength="42.5" lengthAdjust="spacingAndGlyphs" >150</text><text x="1807.0" y="437.5" font-size="22.5" fill="#111" stroke="#111" stroke-width="0.5" text-anchor="start" font-weight="normal" textLength="42.5" lengthAdjust="spacingAndGlyphs" >200</text><text transform="translate(951,334.4) rotate(-90)" x="0" y="0" font-size="27" fill="#111" stroke="#111" stroke-width="0.9" textLength="207.5" lengthAdjust="spacingAndGlyphs">Capacity (mAh g<tspan font-size="13" dy="-13.5">-1</tspan><tspan dy="13.5">)</tspan></text><clipPath id="plotclip"><rect x="1025" y="18.5" width="806" height="387.5"/></clipPath><g clip-path="url(#plotclip)"><g fill="url(#gBk)"><circle cx="1028.3" cy="224.4" r="5.0"/><circle cx="1032.3" cy="239.0" r="5.0"/><circle cx="1036.4" cy="242.5" r="5.0"/><circle cx="1040.4" cy="242.0" r="5.0"/><circle cx="1044.4" cy="240.0" r="5.0"/><circle cx="1048.4" cy="239.5" r="5.0"/><circle cx="1052.4" cy="242.4" r="5.0"/><circle cx="1056.5" cy="245.5" r="5.0"/><circle cx="1060.5" cy="248.5" r="5.0"/><circle cx="1064.5" cy="248.0" r="5.0"/><circle cx="1068.5" cy="248.5" r="5.0"/><circle cx="1072.5" cy="251.0" r="5.0"/><circle cx="1076.6" cy="253.4" r="5.0"/><circle cx="1080.6" cy="255.0" r="5.0"/><circle cx="1084.6" cy="256.5" r="5.0"/><circle cx="1088.6" cy="258.0" r="5.0"/><circle cx="1092.6" cy="259.0" r="5.0"/><circle cx="1096.7" cy="259.5" r="5.0"/><circle cx="1100.7" cy="260.0" r="5.0"/><circle cx="1104.7" cy="260.3" r="5.0"/><circle cx="1108.7" cy="260.5" r="5.0"/><circle cx="1112.7" cy="260.2" r="5.0"/><circle cx="1116.8" cy="259.3" r="5.0"/><circle cx="1120.8" cy="258.2" r="5.0"/><circle cx="1124.8" cy="261.2" r="5.0"/><circle cx="1128.8" cy="263.7" r="5.0"/><circle cx="1132.8" cy="265.2" r="5.0"/><circle cx="1136.9" cy="266.7" r="5.0"/><circle cx="1140.9" cy="268.2" r="5.0"/><circle cx="1144.9" cy="269.2" r="5.0"/><circle cx="1148.9" cy="270.2" r="5.0"/><circle cx="1152.9" cy="271.2" r="5.0"/><circle cx="1157.0" cy="272.2" r="5.0"/><circle cx="1161.0" cy="273.2" r="5.0"/><circle cx="1165.0" cy="274.0" r="5.0"/><circle cx="1169.0" cy="274.8" r="5.0"/><circle cx="1173.0" cy="275.6" r="5.0"/><circle cx="1177.1" cy="276.4" r="5.0"/><circle cx="1181.1" cy="277.2" r="5.0"/><circle cx="1185.1" cy="278.4" r="5.0"/><circle cx="1189.1" cy="279.6" r="5.0"/><circle cx="1193.1" cy="280.9" r="5.0"/><circle cx="1197.2" cy="282.1" r="5.0"/><circle cx="1201.2" cy="283.3" r="5.0"/><circle cx="1205.2" cy="284.3" r="5.0"/><circle cx="1209.2" cy="285.3" r="5.0"/><circle cx="1213.2" cy="286.3" r="5.0"/><circle cx="1217.3" cy="287.3" r="5.0"/><circle cx="1221.3" cy="288.3" r="5.0"/><circle cx="1225.3" cy="289.1" r="5.0"/><circle cx="1229.3" cy="289.8" r="5.0"/><circle cx="1233.3" cy="290.6" r="5.0"/><circle cx="1237.4" cy="291.3" r="5.0"/><circle cx="1241.4" cy="293.0" r="5.0"/><circle cx="1245.4" cy="293.6" r="5.0"/><circle cx="1249.4" cy="294.2" r="5.0"/><circle cx="1253.4" cy="294.9" r="5.0"/><circle cx="1257.5" cy="295.5" r="5.0"/><circle cx="1261.5" cy="296.1" r="5.0"/><circle cx="1265.5" cy="296.7" r="5.0"/><circle cx="1269.5" cy="297.3" r="5.0"/><circle cx="1273.5" cy="298.0" r="5.0"/><circle cx="1277.6" cy="298.6" r="5.0"/><circle cx="1281.6" cy="299.2" r="5.0"/><circle cx="1285.6" cy="299.8" r="5.0"/><circle cx="1289.6" cy="300.4" r="5.0"/><circle cx="1293.6" cy="301.0" r="5.0"/><circle cx="1297.7" cy="301.6" r="5.0"/><circle cx="1301.7" cy="302.2" r="5.0"/><circle cx="1305.7" cy="302.8" r="5.0"/><circle cx="1309.7" cy="303.4" r="5.0"/><circle cx="1313.7" cy="304.0" r="5.0"/><circle cx="1317.8" cy="304.6" r="5.0"/><circle cx="1321.8" cy="305.2" r="5.0"/><circle cx="1325.8" cy="305.7" r="5.0"/><circle cx="1329.8" cy="306.2" r="5.0"/><circle cx="1333.8" cy="306.7" r="5.0"/><circle cx="1337.9" cy="307.2" r="5.0"/><circle cx="1341.9" cy="307.7" r="5.0"/><circle cx="1345.9" cy="308.2" r="5.0"/><circle cx="1349.9" cy="308.7" r="5.0"/><circle cx="1353.9" cy="309.2" r="5.0"/><circle cx="1358.0" cy="309.7" r="5.0"/><circle cx="1362.0" cy="310.2" r="5.0"/><circle cx="1366.0" cy="310.6" r="5.0"/><circle cx="1370.0" cy="311.0" r="5.0"/><circle cx="1374.0" cy="311.4" r="5.0"/><circle cx="1378.1" cy="311.8" r="5.0"/><circle cx="1382.1" cy="312.2" r="5.0"/><circle cx="1386.1" cy="312.7" r="5.0"/><circle cx="1390.1" cy="313.1" r="5.0"/><circle cx="1394.1" cy="313.5" r="5.0"/><circle cx="1398.2" cy="313.9" r="5.0"/><circle cx="1402.2" cy="314.3" r="5.0"/><circle cx="1406.2" cy="314.7" r="5.0"/><circle cx="1410.2" cy="315.2" r="5.0"/><circle cx="1414.2" cy="315.6" r="5.0"/><circle cx="1418.3" cy="316.0" r="5.0"/><circle cx="1422.3" cy="316.5" r="5.0"/><circle cx="1426.3" cy="316.9" r="5.0"/><circle cx="1430.3" cy="317.3" r="5.0"/><circle cx="1434.3" cy="317.7" r="5.0"/><circle cx="1438.4" cy="318.2" r="5.0"/><circle cx="1442.4" cy="318.6" r="5.0"/><circle cx="1446.4" cy="319.0" r="5.0"/><circle cx="1450.4" cy="319.4" r="5.0"/><circle cx="1454.4" cy="319.9" r="5.0"/><circle cx="1458.5" cy="320.3" r="5.0"/><circle cx="1462.5" cy="320.7" r="5.0"/><circle cx="1466.5" cy="321.1" r="5.0"/><circle cx="1470.5" cy="321.5" r="5.0"/><circle cx="1474.5" cy="322.0" r="5.0"/><circle cx="1478.6" cy="322.4" r="5.0"/><circle cx="1482.6" cy="322.8" r="5.0"/><circle cx="1486.6" cy="323.0" r="5.0"/><circle cx="1490.6" cy="323.3" r="5.0"/><circle cx="1494.6" cy="323.5" r="5.0"/><circle cx="1498.7" cy="323.8" r="5.0"/><circle cx="1502.7" cy="324.0" r="5.0"/><circle cx="1506.7" cy="324.2" r="5.0"/><circle cx="1510.7" cy="324.5" r="5.0"/><circle cx="1514.7" cy="324.7" r="5.0"/><circle cx="1518.8" cy="325.0" r="5.0"/><circle cx="1522.8" cy="325.2" r="5.0"/><circle cx="1526.8" cy="325.5" r="5.0"/><circle cx="1530.8" cy="325.9" r="5.0"/><circle cx="1534.8" cy="326.2" r="5.0"/><circle cx="1538.9" cy="326.6" r="5.0"/><circle cx="1542.9" cy="326.9" r="5.0"/><circle cx="1546.9" cy="327.2" r="5.0"/><circle cx="1550.9" cy="327.6" r="5.0"/><circle cx="1554.9" cy="327.9" r="5.0"/><circle cx="1559.0" cy="328.3" r="5.0"/><circle cx="1563.0" cy="328.6" r="5.0"/><circle cx="1567.0" cy="329.0" r="5.0"/><circle cx="1571.0" cy="329.5" r="5.0"/><circle cx="1575.0" cy="329.9" r="5.0"/><circle cx="1579.1" cy="330.3" r="5.0"/><circle cx="1583.1" cy="330.8" r="5.0"/><circle cx="1587.1" cy="331.2" r="5.0"/><circle cx="1591.1" cy="331.6" r="5.0"/><circle cx="1595.1" cy="332.0" r="5.0"/><circle cx="1599.2" cy="332.5" r="5.0"/><circle cx="1603.2" cy="332.9" r="5.0"/><circle cx="1607.2" cy="333.3" r="5.0"/><circle cx="1611.2" cy="333.7" r="5.0"/><circle cx="1615.2" cy="334.1" r="5.0"/><circle cx="1619.3" cy="334.5" r="5.0"/><circle cx="1623.3" cy="334.8" r="5.0"/><circle cx="1627.3" cy="335.2" r="5.0"/><circle cx="1631.3" cy="335.6" r="5.0"/><circle cx="1635.3" cy="336.0" r="5.0"/><circle cx="1639.4" cy="336.4" r="5.0"/><circle cx="1643.4" cy="336.6" r="5.0"/><circle cx="1647.4" cy="336.8" r="5.0"/><circle cx="1651.4" cy="337.0" r="5.0"/><circle cx="1655.4" cy="337.2" r="5.0"/><circle cx="1659.5" cy="337.4" r="5.0"/><circle cx="1663.5" cy="337.7" r="5.0"/><circle cx="1667.5" cy="337.9" r="5.0"/><circle cx="1671.5" cy="338.1" r="5.0"/><circle cx="1675.5" cy="338.3" r="5.0"/><circle cx="1679.6" cy="338.5" r="5.0"/><circle cx="1683.6" cy="338.7" r="5.0"/><circle cx="1687.6" cy="339.0" r="5.0"/><circle cx="1691.6" cy="339.2" r="5.0"/><circle cx="1695.6" cy="339.5" r="5.0"/><circle cx="1699.7" cy="339.7" r="5.0"/><circle cx="1703.7" cy="340.0" r="5.0"/><circle cx="1707.7" cy="340.3" r="5.0"/><circle cx="1711.7" cy="340.5" r="5.0"/><circle cx="1715.7" cy="340.8" r="5.0"/><circle cx="1719.8" cy="341.0" r="5.0"/><circle cx="1723.8" cy="341.3" r="5.0"/><circle cx="1727.8" cy="341.6" r="5.0"/><circle cx="1731.8" cy="341.9" r="5.0"/><circle cx="1735.8" cy="342.2" r="5.0"/><circle cx="1739.9" cy="342.5" r="5.0"/><circle cx="1743.9" cy="342.8" r="5.0"/><circle cx="1747.9" cy="343.1" r="5.0"/><circle cx="1751.9" cy="343.4" r="5.0"/><circle cx="1755.9" cy="343.7" r="5.0"/><circle cx="1760.0" cy="344.0" r="5.0"/><circle cx="1764.0" cy="344.3" r="5.0"/><circle cx="1768.0" cy="344.7" r="5.0"/><circle cx="1772.0" cy="345.1" r="5.0"/><circle cx="1776.0" cy="345.5" r="5.0"/><circle cx="1780.1" cy="345.9" r="5.0"/><circle cx="1784.1" cy="346.3" r="5.0"/><circle cx="1788.1" cy="346.7" r="5.0"/><circle cx="1792.1" cy="347.1" r="5.0"/><circle cx="1796.1" cy="347.5" r="5.0"/><circle cx="1800.2" cy="347.9" r="5.0"/><circle cx="1804.2" cy="348.3" r="5.0"/><circle cx="1808.2" cy="348.9" r="5.0"/><circle cx="1812.2" cy="349.5" r="5.0"/><circle cx="1816.2" cy="350.1" r="5.0"/><circle cx="1820.3" cy="350.7" r="5.0"/><circle cx="1824.3" cy="351.3" r="5.0"/></g><g fill="url(#gRd)"><circle cx="1028.3" cy="167.4" r="5.0"/><circle cx="1032.3" cy="193.2" r="5.0"/><circle cx="1036.4" cy="199.3" r="5.0"/><circle cx="1040.4" cy="209.1" r="5.0"/><circle cx="1044.4" cy="217.0" r="5.0"/><circle cx="1048.4" cy="220.2" r="5.0"/><circle cx="1052.4" cy="220.9" r="5.0"/><circle cx="1056.5" cy="225.1" r="5.0"/><circle cx="1060.5" cy="228.3" r="5.0"/><circle cx="1064.5" cy="229.3" r="5.0"/><circle cx="1068.5" cy="228.8" r="5.0"/><circle cx="1072.5" cy="229.5" r="5.0"/><circle cx="1076.6" cy="230.8" r="5.0"/><circle cx="1080.6" cy="232.7" r="5.0"/><circle cx="1084.6" cy="233.7" r="5.0"/><circle cx="1088.6" cy="234.7" r="5.0"/><circle cx="1092.6" cy="233.2" r="5.0"/><circle cx="1096.7" cy="236.7" r="5.0"/><circle cx="1100.7" cy="239.1" r="5.0"/><circle cx="1104.7" cy="241.6" r="5.0"/><circle cx="1108.7" cy="243.5" r="5.0"/><circle cx="1112.7" cy="244.4" r="5.0"/><circle cx="1116.8" cy="245.2" r="5.0"/><circle cx="1120.8" cy="246.1" r="5.0"/><circle cx="1124.8" cy="247.0" r="5.0"/><circle cx="1128.8" cy="247.9" r="5.0"/><circle cx="1132.8" cy="248.7" r="5.0"/><circle cx="1136.9" cy="249.6" r="5.0"/><circle cx="1140.9" cy="250.5" r="5.0"/><circle cx="1144.9" cy="251.2" r="5.0"/><circle cx="1148.9" cy="251.9" r="5.0"/><circle cx="1152.9" cy="252.7" r="5.0"/><circle cx="1157.0" cy="253.4" r="5.0"/><circle cx="1161.0" cy="254.1" r="5.0"/><circle cx="1165.0" cy="254.7" r="5.0"/><circle cx="1169.0" cy="255.3" r="5.0"/><circle cx="1173.0" cy="255.9" r="5.0"/><circle cx="1177.1" cy="256.5" r="5.0"/><circle cx="1181.1" cy="257.1" r="5.0"/><circle cx="1185.1" cy="257.9" r="5.0"/><circle cx="1189.1" cy="258.7" r="5.0"/><circle cx="1193.1" cy="259.6" r="5.0"/><circle cx="1197.2" cy="260.4" r="5.0"/><circle cx="1201.2" cy="261.2" r="5.0"/><circle cx="1205.2" cy="262.0" r="5.0"/><circle cx="1209.2" cy="262.8" r="5.0"/><circle cx="1213.2" cy="263.6" r="5.0"/><circle cx="1217.3" cy="264.4" r="5.0"/><circle cx="1221.3" cy="265.2" r="5.0"/><circle cx="1225.3" cy="265.8" r="5.0"/><circle cx="1229.3" cy="266.4" r="5.0"/><circle cx="1233.3" cy="267.0" r="5.0"/><circle cx="1237.4" cy="267.6" r="5.0"/><circle cx="1241.4" cy="268.2" r="5.0"/><circle cx="1245.4" cy="268.4" r="5.0"/><circle cx="1249.4" cy="268.7" r="5.0"/><circle cx="1253.4" cy="268.9" r="5.0"/><circle cx="1257.5" cy="269.2" r="5.0"/><circle cx="1261.5" cy="269.4" r="5.0"/><circle cx="1265.5" cy="269.6" r="5.0"/><circle cx="1269.5" cy="269.9" r="5.0"/><circle cx="1273.5" cy="270.1" r="5.0"/><circle cx="1277.6" cy="270.4" r="5.0"/><circle cx="1281.6" cy="270.6" r="5.0"/><circle cx="1285.6" cy="271.0" r="5.0"/><circle cx="1289.6" cy="271.3" r="5.0"/><circle cx="1293.6" cy="271.7" r="5.0"/><circle cx="1297.7" cy="272.0" r="5.0"/><circle cx="1301.7" cy="272.4" r="5.0"/><circle cx="1305.7" cy="272.7" r="5.0"/><circle cx="1309.7" cy="273.1" r="5.0"/><circle cx="1313.7" cy="273.4" r="5.0"/><circle cx="1317.8" cy="273.8" r="5.0"/><circle cx="1321.8" cy="274.1" r="5.0"/><circle cx="1325.8" cy="274.4" r="5.0"/><circle cx="1329.8" cy="274.7" r="5.0"/><circle cx="1333.8" cy="275.0" r="5.0"/><circle cx="1337.9" cy="275.3" r="5.0"/><circle cx="1341.9" cy="275.6" r="5.0"/><circle cx="1345.9" cy="275.9" r="5.0"/><circle cx="1349.9" cy="276.2" r="5.0"/><circle cx="1353.9" cy="276.5" r="5.0"/><circle cx="1358.0" cy="276.8" r="5.0"/><circle cx="1362.0" cy="277.1" r="5.0"/><circle cx="1366.0" cy="277.3" r="5.0"/><circle cx="1370.0" cy="277.5" r="5.0"/><circle cx="1374.0" cy="277.7" r="5.0"/><circle cx="1378.1" cy="277.9" r="5.0"/><circle cx="1382.1" cy="278.1" r="5.0"/><circle cx="1386.1" cy="278.3" r="5.0"/><circle cx="1390.1" cy="278.5" r="5.0"/><circle cx="1394.1" cy="278.7" r="5.0"/><circle cx="1398.2" cy="278.9" r="5.0"/><circle cx="1402.2" cy="279.1" r="5.0"/><circle cx="1406.2" cy="279.4" r="5.0"/><circle cx="1410.2" cy="279.6" r="5.0"/><circle cx="1414.2" cy="279.9" r="5.0"/><circle cx="1418.3" cy="280.2" r="5.0"/><circle cx="1422.3" cy="280.5" r="5.0"/><circle cx="1426.3" cy="280.7" r="5.0"/><circle cx="1430.3" cy="281.0" r="5.0"/><circle cx="1434.3" cy="281.3" r="5.0"/><circle cx="1438.4" cy="281.5" r="5.0"/><circle cx="1442.4" cy="281.8" r="5.0"/><circle cx="1446.4" cy="282.0" r="5.0"/><circle cx="1450.4" cy="282.3" r="5.0"/><circle cx="1454.4" cy="282.5" r="5.0"/><circle cx="1458.5" cy="282.7" r="5.0"/><circle cx="1462.5" cy="283.0" r="5.0"/><circle cx="1466.5" cy="283.2" r="5.0"/><circle cx="1470.5" cy="283.4" r="5.0"/><circle cx="1474.5" cy="283.6" r="5.0"/><circle cx="1478.6" cy="283.9" r="5.0"/><circle cx="1482.6" cy="284.1" r="5.0"/><circle cx="1486.6" cy="284.3" r="5.0"/><circle cx="1490.6" cy="284.5" r="5.0"/><circle cx="1494.6" cy="284.7" r="5.0"/><circle cx="1498.7" cy="284.9" r="5.0"/><circle cx="1502.7" cy="285.1" r="5.0"/><circle cx="1506.7" cy="285.3" r="5.0"/><circle cx="1510.7" cy="285.5" r="5.0"/><circle cx="1514.7" cy="285.7" r="5.0"/><circle cx="1518.8" cy="285.9" r="5.0"/><circle cx="1522.8" cy="286.1" r="5.0"/><circle cx="1526.8" cy="286.3" r="5.0"/><circle cx="1530.8" cy="286.5" r="5.0"/><circle cx="1534.8" cy="286.7" r="5.0"/><circle cx="1538.9" cy="286.9" r="5.0"/><circle cx="1542.9" cy="287.1" r="5.0"/><circle cx="1546.9" cy="287.3" r="5.0"/><circle cx="1550.9" cy="287.5" r="5.0"/><circle cx="1554.9" cy="287.7" r="5.0"/><circle cx="1559.0" cy="287.9" r="5.0"/><circle cx="1563.0" cy="288.1" r="5.0"/><circle cx="1567.0" cy="288.2" r="5.0"/><circle cx="1571.0" cy="288.3" r="5.0"/><circle cx="1575.0" cy="288.5" r="5.0"/><circle cx="1579.1" cy="288.6" r="5.0"/><circle cx="1583.1" cy="288.7" r="5.0"/><circle cx="1587.1" cy="288.8" r="5.0"/><circle cx="1591.1" cy="288.9" r="5.0"/><circle cx="1595.1" cy="289.1" r="5.0"/><circle cx="1599.2" cy="289.2" r="5.0"/><circle cx="1603.2" cy="289.3" r="5.0"/><circle cx="1607.2" cy="289.6" r="5.0"/><circle cx="1611.2" cy="289.8" r="5.0"/><circle cx="1615.2" cy="290.1" r="5.0"/><circle cx="1619.3" cy="290.3" r="5.0"/><circle cx="1623.3" cy="290.6" r="5.0"/><circle cx="1627.3" cy="290.8" r="5.0"/><circle cx="1631.3" cy="291.1" r="5.0"/><circle cx="1635.3" cy="291.3" r="5.0"/><circle cx="1639.4" cy="291.6" r="5.0"/><circle cx="1643.4" cy="291.8" r="5.0"/><circle cx="1647.4" cy="291.9" r="5.0"/><circle cx="1651.4" cy="292.1" r="5.0"/><circle cx="1655.4" cy="292.3" r="5.0"/><circle cx="1659.5" cy="292.5" r="5.0"/><circle cx="1663.5" cy="292.6" r="5.0"/><circle cx="1667.5" cy="292.8" r="5.0"/><circle cx="1671.5" cy="293.0" r="5.0"/><circle cx="1675.5" cy="293.2" r="5.0"/><circle cx="1679.6" cy="293.3" r="5.0"/><circle cx="1683.6" cy="293.5" r="5.0"/><circle cx="1687.6" cy="293.6" r="5.0"/><circle cx="1691.6" cy="293.6" r="5.0"/><circle cx="1695.6" cy="293.7" r="5.0"/><circle cx="1699.7" cy="293.7" r="5.0"/><circle cx="1703.7" cy="293.8" r="5.0"/><circle cx="1707.7" cy="293.9" r="5.0"/><circle cx="1711.7" cy="293.9" r="5.0"/><circle cx="1715.7" cy="294.0" r="5.0"/><circle cx="1719.8" cy="294.0" r="5.0"/><circle cx="1723.8" cy="294.1" r="5.0"/><circle cx="1727.8" cy="294.2" r="5.0"/><circle cx="1731.8" cy="294.3" r="5.0"/><circle cx="1735.8" cy="294.4" r="5.0"/><circle cx="1739.9" cy="294.5" r="5.0"/><circle cx="1743.9" cy="294.6" r="5.0"/><circle cx="1747.9" cy="294.7" r="5.0"/><circle cx="1751.9" cy="294.8" r="5.0"/><circle cx="1755.9" cy="294.9" r="5.0"/><circle cx="1760.0" cy="295.0" r="5.0"/><circle cx="1764.0" cy="295.1" r="5.0"/><circle cx="1768.0" cy="295.2" r="5.0"/><circle cx="1772.0" cy="295.3" r="5.0"/><circle cx="1776.0" cy="295.4" r="5.0"/><circle cx="1780.1" cy="295.5" r="5.0"/><circle cx="1784.1" cy="295.6" r="5.0"/><circle cx="1788.1" cy="295.7" r="5.0"/><circle cx="1792.1" cy="295.8" r="5.0"/><circle cx="1796.1" cy="295.9" r="5.0"/><circle cx="1800.2" cy="296.0" r="5.0"/><circle cx="1804.2" cy="296.1" r="5.0"/><circle cx="1808.2" cy="296.2" r="5.0"/><circle cx="1812.2" cy="296.3" r="5.0"/><circle cx="1816.2" cy="296.3" r="5.0"/><circle cx="1820.3" cy="296.4" r="5.0"/><circle cx="1824.3" cy="296.5" r="5.0"/></g></g><g stroke="#8a8a8a" stroke-width="1.3" fill="none"><rect x="1252.0" y="33.2" width="122.6" height="197.4"/><rect x="1219.6" y="42.3" width="122.6" height="197.7"/></g><circle cx="1344.5" cy="83.0" r="8.2" fill="url(#gFes)" opacity="0.85"/><circle cx="1283.8" cy="179.9" r="8.2" fill="url(#gFes)" opacity="0.85"/><circle cx="1266.6" cy="184.8" r="8.2" fill="url(#gFes)" opacity="0.85"/><circle cx="1345.4" cy="181.2" r="8.2" fill="url(#gFes)" opacity="0.85"/><g stroke-width="3"><line x1="1281.3" y1="43.3" x2="1293.5" y2="36.4" stroke="#c29a3c"/><line x1="1293.5" y1="36.4" x2="1305.7" y2="29.5" stroke="#b0b4de"/><line x1="1297.2" y1="38.4" x2="1301.5" y2="34.0" stroke="#c29a3c"/><line x1="1301.5" y1="34.0" x2="1305.7" y2="29.5" stroke="#b0b4de"/><line x1="1314.4" y1="33.5" x2="1310.1" y2="31.5" stroke="#c29a3c"/><line x1="1310.1" y1="31.5" x2="1305.7" y2="29.5" stroke="#b0b4de"/><line x1="1249.2" y1="92.4" x2="1243.8" y2="85.7" stroke="#c29a3c"/><line x1="1243.8" y1="85.7" x2="1238.5" y2="79.0" stroke="#b0b4de"/><line x1="1266.5" y1="88.0" x2="1252.5" y2="83.5" stroke="#c29a3c"/><line x1="1252.5" y1="83.5" x2="1238.5" y2="79.0" stroke="#b0b4de"/><line x1="1281.3" y1="43.3" x2="1278.4" y2="50.8" stroke="#c29a3c"/><line x1="1278.4" y1="50.8" x2="1275.6" y2="58.3" stroke="#b0b4de"/><line x1="1297.2" y1="38.4" x2="1286.4" y2="48.3" stroke="#c29a3c"/><line x1="1286.4" y1="48.3" x2="1275.6" y2="58.3" stroke="#b0b4de"/><line x1="1283.7" y1="82.7" x2="1279.7" y2="70.5" stroke="#c29a3c"/><line x1="1279.7" y1="70.5" x2="1275.6" y2="58.3" stroke="#b0b4de"/><line x1="1281.3" y1="43.3" x2="1291.5" y2="54.1" stroke="#c29a3c"/><line x1="1291.5" y1="54.1" x2="1301.8" y2="65.0" stroke="#b0b4de"/><line x1="1297.2" y1="38.4" x2="1299.5" y2="51.7" stroke="#c29a3c"/><line x1="1299.5" y1="51.7" x2="1301.8" y2="65.0" stroke="#b0b4de"/><line x1="1314.4" y1="33.5" x2="1308.1" y2="49.2" stroke="#c29a3c"/><line x1="1308.1" y1="49.2" x2="1301.8" y2="65.0" stroke="#b0b4de"/><line x1="1283.7" y1="82.7" x2="1292.8" y2="73.8" stroke="#c29a3c"/><line x1="1292.8" y1="73.8" x2="1301.8" y2="65.0" stroke="#b0b4de"/><line x1="1297.2" y1="38.4" x2="1309.2" y2="48.9" stroke="#c29a3c"/><line x1="1309.2" y1="48.9" x2="1321.2" y2="59.4" stroke="#b0b4de"/><line x1="1314.4" y1="33.5" x2="1317.8" y2="46.5" stroke="#c29a3c"/><line x1="1317.8" y1="46.5" x2="1321.2" y2="59.4" stroke="#b0b4de"/><line x1="1328.0" y1="88.8" x2="1324.6" y2="74.1" stroke="#c29a3c"/><line x1="1324.6" y1="74.1" x2="1321.2" y2="59.4" stroke="#b0b4de"/><line x1="1314.4" y1="33.5" x2="1324.1" y2="44.4" stroke="#c29a3c"/><line x1="1324.1" y1="44.4" x2="1333.8" y2="55.3" stroke="#b0b4de"/><line x1="1344.5" y1="83.0" x2="1339.2" y2="69.2" stroke="#c29a3c"/><line x1="1339.2" y1="69.2" x2="1333.8" y2="55.3" stroke="#b0b4de"/><line x1="1266.5" y1="88.0" x2="1274.5" y2="93.5" stroke="#c29a3c"/><line x1="1274.5" y1="93.5" x2="1282.5" y2="99.0" stroke="#b0b4de"/><line x1="1283.7" y1="82.7" x2="1283.1" y2="90.8" stroke="#c29a3c"/><line x1="1283.1" y1="90.8" x2="1282.5" y2="99.0" stroke="#b0b4de"/><line x1="1310.8" y1="93.7" x2="1296.7" y2="96.3" stroke="#c29a3c"/><line x1="1296.7" y1="96.3" x2="1282.5" y2="99.0" stroke="#b0b4de"/><line x1="1253.3" y1="131.0" x2="1267.9" y2="115.0" stroke="#c29a3c"/><line x1="1267.9" y1="115.0" x2="1282.5" y2="99.0" stroke="#b0b4de"/><line x1="1283.7" y1="82.7" x2="1289.8" y2="88.2" stroke="#c29a3c"/><line x1="1289.8" y1="88.2" x2="1296.0" y2="93.7" stroke="#b0b4de"/><line x1="1310.8" y1="93.7" x2="1303.4" y2="93.7" stroke="#c29a3c"/><line x1="1303.4" y1="93.7" x2="1296.0" y2="93.7" stroke="#b0b4de"/><line x1="1310.8" y1="93.7" x2="1317.6" y2="89.4" stroke="#c29a3c"/><line x1="1317.6" y1="89.4" x2="1324.4" y2="85.1" stroke="#b0b4de"/><line x1="1328.0" y1="88.8" x2="1326.2" y2="86.9" stroke="#c29a3c"/><line x1="1326.2" y1="86.9" x2="1324.4" y2="85.1" stroke="#b0b4de"/><line x1="1344.5" y1="83.0" x2="1334.5" y2="84.0" stroke="#c29a3c"/><line x1="1334.5" y1="84.0" x2="1324.4" y2="85.1" stroke="#b0b4de"/><line x1="1328.0" y1="88.8" x2="1343.4" y2="85.8" stroke="#c29a3c"/><line x1="1343.4" y1="85.8" x2="1358.8" y2="82.7" stroke="#b0b4de"/><line x1="1344.5" y1="83.0" x2="1351.7" y2="82.8" stroke="#c29a3c"/><line x1="1351.7" y1="82.8" x2="1358.8" y2="82.7" stroke="#b0b4de"/><line x1="1344.5" y1="83.0" x2="1359.0" y2="81.0" stroke="#c29a3c"/><line x1="1359.0" y1="81.0" x2="1373.5" y2="79.0" stroke="#b0b4de"/><line x1="1249.2" y1="92.4" x2="1263.0" y2="101.6" stroke="#c29a3c"/><line x1="1263.0" y1="101.6" x2="1276.8" y2="110.7" stroke="#b0b4de"/><line x1="1266.5" y1="88.0" x2="1271.7" y2="99.3" stroke="#c29a3c"/><line x1="1271.7" y1="99.3" x2="1276.8" y2="110.7" stroke="#b0b4de"/><line x1="1283.7" y1="82.7" x2="1280.2" y2="96.7" stroke="#c29a3c"/><line x1="1280.2" y1="96.7" x2="1276.8" y2="110.7" stroke="#b0b4de"/><line x1="1253.3" y1="131.0" x2="1265.0" y2="120.8" stroke="#c29a3c"/><line x1="1265.0" y1="120.8" x2="1276.8" y2="110.7" stroke="#b0b4de"/><line x1="1249.2" y1="92.4" x2="1253.5" y2="104.3" stroke="#c29a3c"/><line x1="1253.5" y1="104.3" x2="1257.8" y2="116.2" stroke="#b0b4de"/><line x1="1266.5" y1="88.0" x2="1262.2" y2="102.1" stroke="#c29a3c"/><line x1="1262.2" y1="102.1" x2="1257.8" y2="116.2" stroke="#b0b4de"/><line x1="1236.5" y1="136.0" x2="1247.2" y2="126.1" stroke="#c29a3c"/><line x1="1247.2" y1="126.1" x2="1257.8" y2="116.2" stroke="#b0b4de"/><line x1="1253.3" y1="131.0" x2="1255.5" y2="123.6" stroke="#c29a3c"/><line x1="1255.5" y1="123.6" x2="1257.8" y2="116.2" stroke="#b0b4de"/><line x1="1249.2" y1="92.4" x2="1246.6" y2="106.1" stroke="#c29a3c"/><line x1="1246.6" y1="106.1" x2="1244.0" y2="119.8" stroke="#b0b4de"/><line x1="1219.0" y1="140.0" x2="1231.5" y2="129.9" stroke="#c29a3c"/><line x1="1231.5" y1="129.9" x2="1244.0" y2="119.8" stroke="#b0b4de"/><line x1="1236.5" y1="136.0" x2="1240.2" y2="127.9" stroke="#c29a3c"/><line x1="1240.2" y1="127.9" x2="1244.0" y2="119.8" stroke="#b0b4de"/><line x1="1253.3" y1="131.0" x2="1248.7" y2="125.4" stroke="#c29a3c"/><line x1="1248.7" y1="125.4" x2="1244.0" y2="119.8" stroke="#b0b4de"/><line x1="1310.8" y1="93.7" x2="1315.1" y2="107.2" stroke="#c29a3c"/><line x1="1315.1" y1="107.2" x2="1319.4" y2="120.8" stroke="#b0b4de"/><line x1="1341.3" y1="142.6" x2="1330.3" y2="131.7" stroke="#c29a3c"/><line x1="1330.3" y1="131.7" x2="1319.4" y2="120.8" stroke="#b0b4de"/><line x1="1328.0" y1="88.8" x2="1331.0" y2="103.3" stroke="#c29a3c"/><line x1="1331.0" y1="103.3" x2="1334.1" y2="117.8" stroke="#b0b4de"/><line x1="1358.1" y1="137.6" x2="1346.1" y2="127.7" stroke="#c29a3c"/><line x1="1346.1" y1="127.7" x2="1334.1" y2="117.8" stroke="#b0b4de"/><line x1="1341.3" y1="142.6" x2="1337.7" y2="130.2" stroke="#c29a3c"/><line x1="1337.7" y1="130.2" x2="1334.1" y2="117.8" stroke="#b0b4de"/><line x1="1344.5" y1="83.0" x2="1348.8" y2="97.5" stroke="#c29a3c"/><line x1="1348.8" y1="97.5" x2="1353.2" y2="112.1" stroke="#b0b4de"/><line x1="1375.6" y1="133.6" x2="1364.4" y2="122.9" stroke="#c29a3c"/><line x1="1364.4" y1="122.9" x2="1353.2" y2="112.1" stroke="#b0b4de"/><line x1="1358.1" y1="137.6" x2="1355.7" y2="124.9" stroke="#c29a3c"/><line x1="1355.7" y1="124.9" x2="1353.2" y2="112.1" stroke="#b0b4de"/><line x1="1219.0" y1="140.0" x2="1229.9" y2="151.1" stroke="#c29a3c"/><line x1="1229.9" y1="151.1" x2="1240.8" y2="162.1" stroke="#b0b4de"/><line x1="1236.5" y1="136.0" x2="1238.7" y2="149.1" stroke="#c29a3c"/><line x1="1238.7" y1="149.1" x2="1240.8" y2="162.1" stroke="#b0b4de"/><line x1="1250.1" y1="190.6" x2="1245.4" y2="176.4" stroke="#c29a3c"/><line x1="1245.4" y1="176.4" x2="1240.8" y2="162.1" stroke="#b0b4de"/><line x1="1236.5" y1="136.0" x2="1248.4" y2="146.1" stroke="#c29a3c"/><line x1="1248.4" y1="146.1" x2="1260.3" y2="156.1" stroke="#b0b4de"/><line x1="1253.3" y1="131.0" x2="1256.8" y2="143.6" stroke="#c29a3c"/><line x1="1256.8" y1="143.6" x2="1260.3" y2="156.1" stroke="#b0b4de"/><line x1="1266.6" y1="184.8" x2="1263.4" y2="170.4" stroke="#c29a3c"/><line x1="1263.4" y1="170.4" x2="1260.3" y2="156.1" stroke="#b0b4de"/><line x1="1253.3" y1="131.0" x2="1263.8" y2="141.4" stroke="#c29a3c"/><line x1="1263.8" y1="141.4" x2="1274.2" y2="151.8" stroke="#b0b4de"/><line x1="1283.8" y1="179.9" x2="1279.0" y2="165.9" stroke="#c29a3c"/><line x1="1279.0" y1="165.9" x2="1274.2" y2="151.8" stroke="#b0b4de"/><line x1="1328.1" y1="185.6" x2="1322.7" y2="174.6" stroke="#c29a3c"/><line x1="1322.7" y1="174.6" x2="1317.2" y2="163.5" stroke="#b0b4de"/><line x1="1310.9" y1="190.9" x2="1314.0" y2="177.2" stroke="#c29a3c"/><line x1="1314.0" y1="177.2" x2="1317.2" y2="163.5" stroke="#b0b4de"/><line x1="1341.3" y1="142.6" x2="1329.2" y2="153.1" stroke="#c29a3c"/><line x1="1329.2" y1="153.1" x2="1317.2" y2="163.5" stroke="#b0b4de"/><line x1="1345.4" y1="181.2" x2="1340.9" y2="169.4" stroke="#c29a3c"/><line x1="1340.9" y1="169.4" x2="1336.5" y2="157.7" stroke="#b0b4de"/><line x1="1328.1" y1="185.6" x2="1332.3" y2="171.7" stroke="#c29a3c"/><line x1="1332.3" y1="171.7" x2="1336.5" y2="157.7" stroke="#b0b4de"/><line x1="1358.1" y1="137.6" x2="1347.3" y2="147.7" stroke="#c29a3c"/><line x1="1347.3" y1="147.7" x2="1336.5" y2="157.7" stroke="#b0b4de"/><line x1="1341.3" y1="142.6" x2="1338.9" y2="150.2" stroke="#c29a3c"/><line x1="1338.9" y1="150.2" x2="1336.5" y2="157.7" stroke="#b0b4de"/><line x1="1345.4" y1="181.2" x2="1348.3" y2="167.6" stroke="#c29a3c"/><line x1="1348.3" y1="167.6" x2="1351.3" y2="154.0" stroke="#b0b4de"/><line x1="1375.6" y1="133.6" x2="1363.4" y2="143.8" stroke="#c29a3c"/><line x1="1363.4" y1="143.8" x2="1351.3" y2="154.0" stroke="#b0b4de"/><line x1="1358.1" y1="137.6" x2="1354.7" y2="145.8" stroke="#c29a3c"/><line x1="1354.7" y1="145.8" x2="1351.3" y2="154.0" stroke="#b0b4de"/><line x1="1341.3" y1="142.6" x2="1346.3" y2="148.3" stroke="#c29a3c"/><line x1="1346.3" y1="148.3" x2="1351.3" y2="154.0" stroke="#b0b4de"/><line x1="1250.1" y1="190.6" x2="1235.8" y2="193.4" stroke="#c29a3c"/><line x1="1235.8" y1="193.4" x2="1221.6" y2="196.2" stroke="#b0b4de"/><line x1="1250.1" y1="190.6" x2="1242.3" y2="190.9" stroke="#c29a3c"/><line x1="1242.3" y1="190.9" x2="1234.5" y2="191.1" stroke="#b0b4de"/><line x1="1283.8" y1="179.9" x2="1273.6" y2="180.6" stroke="#c29a3c"/><line x1="1273.6" y1="180.6" x2="1263.4" y2="181.2" stroke="#b0b4de"/><line x1="1266.6" y1="184.8" x2="1265.0" y2="183.0" stroke="#c29a3c"/><line x1="1265.0" y1="183.0" x2="1263.4" y2="181.2" stroke="#b0b4de"/><line x1="1250.1" y1="190.6" x2="1256.8" y2="185.9" stroke="#c29a3c"/><line x1="1256.8" y1="185.9" x2="1263.4" y2="181.2" stroke="#b0b4de"/><line x1="1283.8" y1="179.9" x2="1281.2" y2="182.5" stroke="#c29a3c"/><line x1="1281.2" y1="182.5" x2="1278.5" y2="185.0" stroke="#b0b4de"/><line x1="1266.6" y1="184.8" x2="1272.5" y2="184.9" stroke="#c29a3c"/><line x1="1272.5" y1="184.9" x2="1278.5" y2="185.0" stroke="#b0b4de"/><line x1="1250.1" y1="190.6" x2="1264.3" y2="187.8" stroke="#c29a3c"/><line x1="1264.3" y1="187.8" x2="1278.5" y2="185.0" stroke="#b0b4de"/><line x1="1310.9" y1="190.9" x2="1304.7" y2="184.5" stroke="#c29a3c"/><line x1="1304.7" y1="184.5" x2="1298.4" y2="178.1" stroke="#b0b4de"/><line x1="1283.8" y1="179.9" x2="1291.1" y2="179.0" stroke="#c29a3c"/><line x1="1291.1" y1="179.0" x2="1298.4" y2="178.1" stroke="#b0b4de"/><line x1="1313.3" y1="230.3" x2="1328.7" y2="214.4" stroke="#c29a3c"/><line x1="1328.7" y1="214.4" x2="1344.0" y2="198.6" stroke="#b0b4de"/><line x1="1345.4" y1="181.2" x2="1344.7" y2="189.9" stroke="#c29a3c"/><line x1="1344.7" y1="189.9" x2="1344.0" y2="198.6" stroke="#b0b4de"/><line x1="1328.1" y1="185.6" x2="1336.0" y2="192.1" stroke="#c29a3c"/><line x1="1336.0" y1="192.1" x2="1344.0" y2="198.6" stroke="#b0b4de"/><line x1="1345.4" y1="181.2" x2="1350.9" y2="187.8" stroke="#c29a3c"/><line x1="1350.9" y1="187.8" x2="1356.5" y2="194.3" stroke="#b0b4de"/><line x1="1328.1" y1="185.6" x2="1342.3" y2="190.0" stroke="#c29a3c"/><line x1="1342.3" y1="190.0" x2="1356.5" y2="194.3" stroke="#b0b4de"/><line x1="1280.2" y1="240.1" x2="1269.6" y2="229.4" stroke="#c29a3c"/><line x1="1269.6" y1="229.4" x2="1259.0" y2="218.6" stroke="#b0b4de"/><line x1="1250.1" y1="190.6" x2="1254.5" y2="204.6" stroke="#c29a3c"/><line x1="1254.5" y1="204.6" x2="1259.0" y2="218.6" stroke="#b0b4de"/><line x1="1280.2" y1="240.1" x2="1276.3" y2="227.2" stroke="#c29a3c"/><line x1="1276.3" y1="227.2" x2="1272.5" y2="214.3" stroke="#b0b4de"/><line x1="1266.6" y1="184.8" x2="1269.5" y2="199.6" stroke="#c29a3c"/><line x1="1269.5" y1="199.6" x2="1272.5" y2="214.3" stroke="#b0b4de"/><line x1="1297.4" y1="235.2" x2="1294.4" y2="221.9" stroke="#c29a3c"/><line x1="1294.4" y1="221.9" x2="1291.5" y2="208.7" stroke="#b0b4de"/><line x1="1310.9" y1="190.9" x2="1301.2" y2="199.8" stroke="#c29a3c"/><line x1="1301.2" y1="199.8" x2="1291.5" y2="208.7" stroke="#b0b4de"/><line x1="1283.8" y1="179.9" x2="1287.7" y2="194.3" stroke="#c29a3c"/><line x1="1287.7" y1="194.3" x2="1291.5" y2="208.7" stroke="#b0b4de"/><line x1="1313.3" y1="230.3" x2="1309.2" y2="224.7" stroke="#c29a3c"/><line x1="1309.2" y1="224.7" x2="1305.0" y2="219.1" stroke="#b0b4de"/><line x1="1297.4" y1="235.2" x2="1301.2" y2="227.2" stroke="#c29a3c"/><line x1="1301.2" y1="227.2" x2="1305.0" y2="219.1" stroke="#b0b4de"/><line x1="1280.2" y1="240.1" x2="1292.6" y2="229.6" stroke="#c29a3c"/><line x1="1292.6" y1="229.6" x2="1305.0" y2="219.1" stroke="#b0b4de"/><line x1="1310.9" y1="190.9" x2="1307.9" y2="205.0" stroke="#c29a3c"/><line x1="1307.9" y1="205.0" x2="1305.0" y2="219.1" stroke="#b0b4de"/><line x1="1313.3" y1="230.3" x2="1315.8" y2="222.9" stroke="#c29a3c"/><line x1="1315.8" y1="222.9" x2="1318.4" y2="215.5" stroke="#b0b4de"/><line x1="1297.4" y1="235.2" x2="1307.9" y2="225.4" stroke="#c29a3c"/><line x1="1307.9" y1="225.4" x2="1318.4" y2="215.5" stroke="#b0b4de"/><line x1="1310.9" y1="190.9" x2="1314.7" y2="203.2" stroke="#c29a3c"/><line x1="1314.7" y1="203.2" x2="1318.4" y2="215.5" stroke="#b0b4de"/><line x1="1313.3" y1="230.3" x2="1325.2" y2="220.2" stroke="#c29a3c"/><line x1="1325.2" y1="220.2" x2="1337.1" y2="210.2" stroke="#b0b4de"/><line x1="1328.1" y1="185.6" x2="1332.6" y2="197.9" stroke="#c29a3c"/><line x1="1332.6" y1="197.9" x2="1337.1" y2="210.2" stroke="#b0b4de"/><line x1="1313.3" y1="230.3" x2="1326.5" y2="229.2" stroke="#c29a3c"/><line x1="1326.5" y1="229.2" x2="1339.8" y2="228.0" stroke="#b0b4de"/><line x1="1345.4" y1="181.2" x2="1342.6" y2="204.6" stroke="#c29a3c"/><line x1="1342.6" y1="204.6" x2="1339.8" y2="228.0" stroke="#b0b4de"/><line x1="1313.3" y1="230.3" x2="1301.7" y2="236.5" stroke="#c29a3c"/><line x1="1301.7" y1="236.5" x2="1290.0" y2="242.7" stroke="#b0b4de"/><line x1="1297.4" y1="235.2" x2="1293.7" y2="238.9" stroke="#c29a3c"/><line x1="1293.7" y1="238.9" x2="1290.0" y2="242.7" stroke="#b0b4de"/><line x1="1280.2" y1="240.1" x2="1285.1" y2="241.4" stroke="#c29a3c"/><line x1="1285.1" y1="241.4" x2="1290.0" y2="242.7" stroke="#b0b4de"/></g><line x1="1228.0" y1="39.6" x2="1223.0" y2="34.4" stroke="#e01818" stroke-width="2.8"/><line x1="1223.0" y1="34.4" x2="1218.0" y2="29.1" stroke="#ecc8c8" stroke-width="2.8"/><line x1="1228.0" y1="39.6" x2="1237.0" y2="39.4" stroke="#e01818" stroke-width="2.8"/><line x1="1237.0" y1="39.4" x2="1246.0" y2="39.1" stroke="#ecc8c8" stroke-width="2.8"/><circle cx="1218.0" cy="29.1" r="2.8" fill="#fbf6f6" stroke="#c0a8a8" stroke-width="1.3"/><circle cx="1246.0" cy="39.1" r="2.8" fill="#fbf6f6" stroke="#c0a8a8" stroke-width="1.3"/><circle cx="1228.0" cy="39.6" r="4.6" fill="url(#gO)"/><line x1="1244.5" y1="34.9" x2="1239.5" y2="29.6" stroke="#e01818" stroke-width="2.8"/><line x1="1239.5" y1="29.6" x2="1234.5" y2="24.4" stroke="#ecc8c8" stroke-width="2.8"/><line x1="1244.5" y1="34.9" x2="1253.5" y2="34.6" stroke="#e01818" stroke-width="2.8"/><line x1="1253.5" y1="34.6" x2="1262.5" y2="34.4" stroke="#ecc8c8" stroke-width="2.8"/><circle cx="1234.5" cy="24.4" r="2.8" fill="#fbf6f6" stroke="#c0a8a8" stroke-width="1.3"/><circle cx="1262.5" cy="34.4" r="2.8" fill="#fbf6f6" stroke="#c0a8a8" stroke-width="1.3"/><circle cx="1244.5" cy="34.9" r="4.6" fill="url(#gO)"/><line x1="1350.6" y1="43.5" x2="1345.6" y2="38.2" stroke="#e01818" stroke-width="2.8"/><line x1="1345.6" y1="38.2" x2="1340.6" y2="33.0" stroke="#ecc8c8" stroke-width="2.8"/><line x1="1350.6" y1="43.5" x2="1359.6" y2="43.2" stroke="#e01818" stroke-width="2.8"/><line x1="1359.6" y1="43.2" x2="1368.6" y2="43.0" stroke="#ecc8c8" stroke-width="2.8"/><circle cx="1340.6" cy="33.0" r="2.8" fill="#fbf6f6" stroke="#c0a8a8" stroke-width="1.3"/><circle cx="1368.6" cy="43.0" r="2.8" fill="#fbf6f6" stroke="#c0a8a8" stroke-width="1.3"/><circle cx="1350.6" cy="43.5" r="4.6" fill="url(#gO)"/><line x1="1367.1" y1="38.8" x2="1362.1" y2="33.5" stroke="#e01818" stroke-width="2.8"/><line x1="1362.1" y1="33.5" x2="1357.1" y2="28.3" stroke="#ecc8c8" stroke-width="2.8"/><line x1="1367.1" y1="38.8" x2="1376.1" y2="38.5" stroke="#e01818" stroke-width="2.8"/><line x1="1376.1" y1="38.5" x2="1385.1" y2="38.3" stroke="#ecc8c8" stroke-width="2.8"/><circle cx="1357.1" cy="28.3" r="2.8" fill="#fbf6f6" stroke="#c0a8a8" stroke-width="1.3"/><circle cx="1385.1" cy="38.3" r="2.8" fill="#fbf6f6" stroke="#c0a8a8" stroke-width="1.3"/><circle cx="1367.1" cy="38.8" r="4.6" fill="url(#gO)"/><line x1="1289.0" y1="139.4" x2="1284.0" y2="134.2" stroke="#e01818" stroke-width="2.8"/><line x1="1284.0" y1="134.2" x2="1279.0" y2="128.9" stroke="#ecc8c8" stroke-width="2.8"/><line x1="1289.0" y1="139.4" x2="1298.0" y2="139.2" stroke="#e01818" stroke-width="2.8"/><line x1="1298.0" y1="139.2" x2="1307.0" y2="138.9" stroke="#ecc8c8" stroke-width="2.8"/><circle cx="1279.0" cy="128.9" r="2.8" fill="#fbf6f6" stroke="#c0a8a8" stroke-width="1.3"/><circle cx="1307.0" cy="138.9" r="2.8" fill="#fbf6f6" stroke="#c0a8a8" stroke-width="1.3"/><circle cx="1289.0" cy="139.4" r="4.6" fill="url(#gO)"/><line x1="1305.5" y1="134.7" x2="1300.5" y2="129.5" stroke="#e01818" stroke-width="2.8"/><line x1="1300.5" y1="129.5" x2="1295.5" y2="124.2" stroke="#ecc8c8" stroke-width="2.8"/><line x1="1305.5" y1="134.7" x2="1314.5" y2="134.5" stroke="#e01818" stroke-width="2.8"/><line x1="1314.5" y1="134.5" x2="1323.5" y2="134.2" stroke="#ecc8c8" stroke-width="2.8"/><circle cx="1295.5" cy="124.2" r="2.8" fill="#fbf6f6" stroke="#c0a8a8" stroke-width="1.3"/><circle cx="1323.5" cy="134.2" r="2.8" fill="#fbf6f6" stroke="#c0a8a8" stroke-width="1.3"/><circle cx="1305.5" cy="134.7" r="4.6" fill="url(#gO)"/><line x1="1228.0" y1="236.4" x2="1223.0" y2="231.2" stroke="#e01818" stroke-width="2.8"/><line x1="1223.0" y1="231.2" x2="1218.0" y2="225.9" stroke="#ecc8c8" stroke-width="2.8"/><line x1="1228.0" y1="236.4" x2="1237.0" y2="236.2" stroke="#e01818" stroke-width="2.8"/><line x1="1237.0" y1="236.2" x2="1246.0" y2="235.9" stroke="#ecc8c8" stroke-width="2.8"/><circle cx="1218.0" cy="225.9" r="2.8" fill="#fbf6f6" stroke="#c0a8a8" stroke-width="1.3"/><circle cx="1246.0" cy="235.9" r="2.8" fill="#fbf6f6" stroke="#c0a8a8" stroke-width="1.3"/><circle cx="1228.0" cy="236.4" r="4.6" fill="url(#gO)"/><line x1="1244.5" y1="231.7" x2="1239.5" y2="226.5" stroke="#e01818" stroke-width="2.8"/><line x1="1239.5" y1="226.5" x2="1234.5" y2="221.2" stroke="#ecc8c8" stroke-width="2.8"/><line x1="1244.5" y1="231.7" x2="1253.5" y2="231.5" stroke="#e01818" stroke-width="2.8"/><line x1="1253.5" y1="231.5" x2="1262.5" y2="231.2" stroke="#ecc8c8" stroke-width="2.8"/><circle cx="1234.5" cy="221.2" r="2.8" fill="#fbf6f6" stroke="#c0a8a8" stroke-width="1.3"/><circle cx="1262.5" cy="231.2" r="2.8" fill="#fbf6f6" stroke="#c0a8a8" stroke-width="1.3"/><circle cx="1244.5" cy="231.7" r="4.6" fill="url(#gO)"/><line x1="1350.6" y1="238.0" x2="1345.6" y2="232.8" stroke="#e01818" stroke-width="2.8"/><line x1="1345.6" y1="232.8" x2="1340.6" y2="227.5" stroke="#ecc8c8" stroke-width="2.8"/><line x1="1350.6" y1="238.0" x2="1359.6" y2="237.8" stroke="#e01818" stroke-width="2.8"/><line x1="1359.6" y1="237.8" x2="1368.6" y2="237.5" stroke="#ecc8c8" stroke-width="2.8"/><circle cx="1340.6" cy="227.5" r="2.8" fill="#fbf6f6" stroke="#c0a8a8" stroke-width="1.3"/><circle cx="1368.6" cy="237.5" r="2.8" fill="#fbf6f6" stroke="#c0a8a8" stroke-width="1.3"/><circle cx="1350.6" cy="238.0" r="4.6" fill="url(#gO)"/><line x1="1367.1" y1="233.3" x2="1362.1" y2="228.1" stroke="#e01818" stroke-width="2.8"/><line x1="1362.1" y1="228.1" x2="1357.1" y2="222.8" stroke="#ecc8c8" stroke-width="2.8"/><line x1="1367.1" y1="233.3" x2="1376.1" y2="233.1" stroke="#e01818" stroke-width="2.8"/><line x1="1376.1" y1="233.1" x2="1385.1" y2="232.8" stroke="#ecc8c8" stroke-width="2.8"/><circle cx="1357.1" cy="222.8" r="2.8" fill="#fbf6f6" stroke="#c0a8a8" stroke-width="1.3"/><circle cx="1385.1" cy="232.8" r="2.8" fill="#fbf6f6" stroke="#c0a8a8" stroke-width="1.3"/><circle cx="1367.1" cy="233.3" r="4.6" fill="url(#gO)"/><g fill="#eef0fa" stroke="#8d93c6" stroke-width="1.8"><circle cx="1305.7" cy="29.5" r="3.5"/><circle cx="1238.5" cy="79.0" r="3.5"/><circle cx="1275.6" cy="58.3" r="3.5"/><circle cx="1301.8" cy="65.0" r="3.5"/><circle cx="1321.2" cy="59.4" r="3.5"/><circle cx="1333.8" cy="55.3" r="3.5"/><circle cx="1282.5" cy="99.0" r="3.5"/><circle cx="1296.0" cy="93.7" r="3.5"/><circle cx="1324.4" cy="85.1" r="3.5"/><circle cx="1358.8" cy="82.7" r="3.5"/><circle cx="1373.5" cy="79.0" r="3.5"/><circle cx="1276.8" cy="110.7" r="3.5"/><circle cx="1257.8" cy="116.2" r="3.5"/><circle cx="1244.0" cy="119.8" r="3.5"/><circle cx="1319.4" cy="120.8" r="3.5"/><circle cx="1334.1" cy="117.8" r="3.5"/><circle cx="1353.2" cy="112.1" r="3.5"/><circle cx="1240.8" cy="162.1" r="3.5"/><circle cx="1260.3" cy="156.1" r="3.5"/><circle cx="1274.2" cy="151.8" r="3.5"/><circle cx="1317.2" cy="163.5" r="3.5"/><circle cx="1336.5" cy="157.7" r="3.5"/><circle cx="1351.3" cy="154.0" r="3.5"/><circle cx="1221.6" cy="196.2" r="3.5"/><circle cx="1234.5" cy="191.1" r="3.5"/><circle cx="1263.4" cy="181.2" r="3.5"/><circle cx="1278.5" cy="185.0" r="3.5"/><circle cx="1298.4" cy="178.1" r="3.5"/><circle cx="1344.0" cy="198.6" r="3.5"/><circle cx="1356.5" cy="194.3" r="3.5"/><circle cx="1259.0" cy="218.6" r="3.5"/><circle cx="1272.5" cy="214.3" r="3.5"/><circle cx="1291.5" cy="208.7" r="3.5"/><circle cx="1305.0" cy="219.1" r="3.5"/><circle cx="1318.4" cy="215.5" r="3.5"/><circle cx="1337.1" cy="210.2" r="3.5"/><circle cx="1339.8" cy="228.0" r="3.5"/><circle cx="1290.0" cy="242.7" r="3.5"/></g><circle cx="1281.3" cy="43.3" r="8.2" fill="url(#gFes)"/><circle cx="1297.2" cy="38.4" r="8.2" fill="url(#gFes)"/><circle cx="1314.4" cy="33.5" r="8.2" fill="url(#gFes)"/><circle cx="1249.2" cy="92.4" r="8.2" fill="url(#gFes)"/><circle cx="1266.5" cy="88.0" r="8.2" fill="url(#gFes)"/><circle cx="1283.7" cy="82.7" r="8.2" fill="url(#gFes)"/><circle cx="1310.8" cy="93.7" r="8.2" fill="url(#gFes)"/><circle cx="1328.0" cy="88.8" r="8.2" fill="url(#gFes)"/><circle cx="1219.0" cy="140.0" r="8.2" fill="url(#gFes)"/><circle cx="1236.5" cy="136.0" r="8.2" fill="url(#gFes)"/><circle cx="1253.3" cy="131.0" r="8.2" fill="url(#gFes)"/><circle cx="1313.3" cy="230.3" r="8.2" fill="url(#gFes)"/><circle cx="1297.4" cy="235.2" r="8.2" fill="url(#gFes)"/><circle cx="1280.2" cy="240.1" r="8.2" fill="url(#gFes)"/><circle cx="1328.1" cy="185.6" r="8.2" fill="url(#gFes)"/><circle cx="1310.9" cy="190.9" r="8.2" fill="url(#gFes)"/><circle cx="1250.1" cy="190.6" r="8.2" fill="url(#gFes)"/><circle cx="1375.6" cy="133.6" r="8.2" fill="url(#gFes)"/><circle cx="1358.1" cy="137.6" r="8.2" fill="url(#gFes)"/><circle cx="1341.3" cy="142.6" r="8.2" fill="url(#gFes)"/><g stroke="#8a8a8a" stroke-width="1.3" fill="none"><rect x="1538.5" y="33.2" width="122.6" height="197.4"/><rect x="1506.1" y="42.3" width="122.6" height="197.7"/></g><circle cx="1631.0" cy="83.0" r="8.2" fill="url(#gFes)" opacity="0.85"/><circle cx="1570.3" cy="179.9" r="8.2" fill="url(#gFes)" opacity="0.85"/><circle cx="1553.1" cy="184.8" r="8.2" fill="url(#gFes)" opacity="0.85"/><circle cx="1631.9" cy="181.2" r="8.2" fill="url(#gFes)" opacity="0.85"/><g stroke-width="3"><line x1="1567.8" y1="43.3" x2="1580.0" y2="36.4" stroke="#c29a3c"/><line x1="1580.0" y1="36.4" x2="1592.2" y2="29.5" stroke="#b0b4de"/><line x1="1583.7" y1="38.4" x2="1588.0" y2="34.0" stroke="#c29a3c"/><line x1="1588.0" y1="34.0" x2="1592.2" y2="29.5" stroke="#b0b4de"/><line x1="1600.9" y1="33.5" x2="1596.6" y2="31.5" stroke="#c29a3c"/><line x1="1596.6" y1="31.5" x2="1592.2" y2="29.5" stroke="#b0b4de"/><line x1="1535.7" y1="92.4" x2="1530.3" y2="85.7" stroke="#c29a3c"/><line x1="1530.3" y1="85.7" x2="1525.0" y2="79.0" stroke="#b0b4de"/><line x1="1553.0" y1="88.0" x2="1539.0" y2="83.5" stroke="#b02aa8"/><line x1="1539.0" y1="83.5" x2="1525.0" y2="79.0" stroke="#b0b4de"/><line x1="1567.8" y1="43.3" x2="1564.9" y2="50.8" stroke="#c29a3c"/><line x1="1564.9" y1="50.8" x2="1562.1" y2="58.3" stroke="#b0b4de"/><line x1="1583.7" y1="38.4" x2="1572.9" y2="48.3" stroke="#c29a3c"/><line x1="1572.9" y1="48.3" x2="1562.1" y2="58.3" stroke="#b0b4de"/><line x1="1570.2" y1="82.7" x2="1566.2" y2="70.5" stroke="#c29a3c"/><line x1="1566.2" y1="70.5" x2="1562.1" y2="58.3" stroke="#b0b4de"/><line x1="1567.8" y1="43.3" x2="1578.0" y2="54.1" stroke="#c29a3c"/><line x1="1578.0" y1="54.1" x2="1588.3" y2="65.0" stroke="#b0b4de"/><line x1="1583.7" y1="38.4" x2="1586.0" y2="51.7" stroke="#c29a3c"/><line x1="1586.0" y1="51.7" x2="1588.3" y2="65.0" stroke="#b0b4de"/><line x1="1600.9" y1="33.5" x2="1594.6" y2="49.2" stroke="#c29a3c"/><line x1="1594.6" y1="49.2" x2="1588.3" y2="65.0" stroke="#b0b4de"/><line x1="1570.2" y1="82.7" x2="1579.2" y2="73.8" stroke="#c29a3c"/><line x1="1579.2" y1="73.8" x2="1588.3" y2="65.0" stroke="#b0b4de"/><line x1="1583.7" y1="38.4" x2="1595.7" y2="48.9" stroke="#c29a3c"/><line x1="1595.7" y1="48.9" x2="1607.7" y2="59.4" stroke="#b0b4de"/><line x1="1600.9" y1="33.5" x2="1604.3" y2="46.5" stroke="#c29a3c"/><line x1="1604.3" y1="46.5" x2="1607.7" y2="59.4" stroke="#b0b4de"/><line x1="1614.5" y1="88.8" x2="1611.1" y2="74.1" stroke="#c29a3c"/><line x1="1611.1" y1="74.1" x2="1607.7" y2="59.4" stroke="#b0b4de"/><line x1="1600.9" y1="33.5" x2="1610.6" y2="44.4" stroke="#c29a3c"/><line x1="1610.6" y1="44.4" x2="1620.3" y2="55.3" stroke="#b0b4de"/><line x1="1631.0" y1="83.0" x2="1625.7" y2="69.2" stroke="#c29a3c"/><line x1="1625.7" y1="69.2" x2="1620.3" y2="55.3" stroke="#b0b4de"/><line x1="1553.0" y1="88.0" x2="1561.0" y2="93.5" stroke="#b02aa8"/><line x1="1561.0" y1="93.5" x2="1569.0" y2="99.0" stroke="#b0b4de"/><line x1="1570.2" y1="82.7" x2="1569.6" y2="90.8" stroke="#c29a3c"/><line x1="1569.6" y1="90.8" x2="1569.0" y2="99.0" stroke="#b0b4de"/><line x1="1597.3" y1="93.7" x2="1583.2" y2="96.3" stroke="#c29a3c"/><line x1="1583.2" y1="96.3" x2="1569.0" y2="99.0" stroke="#b0b4de"/><line x1="1539.8" y1="131.0" x2="1554.4" y2="115.0" stroke="#c29a3c"/><line x1="1554.4" y1="115.0" x2="1569.0" y2="99.0" stroke="#b0b4de"/><line x1="1570.2" y1="82.7" x2="1576.3" y2="88.2" stroke="#c29a3c"/><line x1="1576.3" y1="88.2" x2="1582.5" y2="93.7" stroke="#b0b4de"/><line x1="1597.3" y1="93.7" x2="1589.9" y2="93.7" stroke="#c29a3c"/><line x1="1589.9" y1="93.7" x2="1582.5" y2="93.7" stroke="#b0b4de"/><line x1="1597.3" y1="93.7" x2="1604.1" y2="89.4" stroke="#c29a3c"/><line x1="1604.1" y1="89.4" x2="1610.9" y2="85.1" stroke="#b0b4de"/><line x1="1614.5" y1="88.8" x2="1612.7" y2="86.9" stroke="#c29a3c"/><line x1="1612.7" y1="86.9" x2="1610.9" y2="85.1" stroke="#b0b4de"/><line x1="1631.0" y1="83.0" x2="1621.0" y2="84.0" stroke="#c29a3c"/><line x1="1621.0" y1="84.0" x2="1610.9" y2="85.1" stroke="#b0b4de"/><line x1="1614.5" y1="88.8" x2="1629.9" y2="85.8" stroke="#c29a3c"/><line x1="1629.9" y1="85.8" x2="1645.3" y2="82.7" stroke="#b0b4de"/><line x1="1631.0" y1="83.0" x2="1638.2" y2="82.8" stroke="#c29a3c"/><line x1="1638.2" y1="82.8" x2="1645.3" y2="82.7" stroke="#b0b4de"/><line x1="1631.0" y1="83.0" x2="1645.5" y2="81.0" stroke="#c29a3c"/><line x1="1645.5" y1="81.0" x2="1660.0" y2="79.0" stroke="#b0b4de"/><line x1="1535.7" y1="92.4" x2="1549.5" y2="101.6" stroke="#c29a3c"/><line x1="1549.5" y1="101.6" x2="1563.3" y2="110.7" stroke="#b0b4de"/><line x1="1553.0" y1="88.0" x2="1558.2" y2="99.3" stroke="#b02aa8"/><line x1="1558.2" y1="99.3" x2="1563.3" y2="110.7" stroke="#b0b4de"/><line x1="1570.2" y1="82.7" x2="1566.8" y2="96.7" stroke="#c29a3c"/><line x1="1566.8" y1="96.7" x2="1563.3" y2="110.7" stroke="#b0b4de"/><line x1="1539.8" y1="131.0" x2="1551.5" y2="120.8" stroke="#c29a3c"/><line x1="1551.5" y1="120.8" x2="1563.3" y2="110.7" stroke="#b0b4de"/><line x1="1535.7" y1="92.4" x2="1540.0" y2="104.3" stroke="#c29a3c"/><line x1="1540.0" y1="104.3" x2="1544.3" y2="116.2" stroke="#b0b4de"/><line x1="1553.0" y1="88.0" x2="1548.7" y2="102.1" stroke="#b02aa8"/><line x1="1548.7" y1="102.1" x2="1544.3" y2="116.2" stroke="#b0b4de"/><line x1="1523.0" y1="136.0" x2="1533.7" y2="126.1" stroke="#c29a3c"/><line x1="1533.7" y1="126.1" x2="1544.3" y2="116.2" stroke="#b0b4de"/><line x1="1539.8" y1="131.0" x2="1542.0" y2="123.6" stroke="#c29a3c"/><line x1="1542.0" y1="123.6" x2="1544.3" y2="116.2" stroke="#b0b4de"/><line x1="1535.7" y1="92.4" x2="1533.1" y2="106.1" stroke="#c29a3c"/><line x1="1533.1" y1="106.1" x2="1530.5" y2="119.8" stroke="#b0b4de"/><line x1="1505.5" y1="140.0" x2="1518.0" y2="129.9" stroke="#c29a3c"/><line x1="1518.0" y1="129.9" x2="1530.5" y2="119.8" stroke="#b0b4de"/><line x1="1523.0" y1="136.0" x2="1526.8" y2="127.9" stroke="#c29a3c"/><line x1="1526.8" y1="127.9" x2="1530.5" y2="119.8" stroke="#b0b4de"/><line x1="1539.8" y1="131.0" x2="1535.2" y2="125.4" stroke="#c29a3c"/><line x1="1535.2" y1="125.4" x2="1530.5" y2="119.8" stroke="#b0b4de"/><line x1="1597.3" y1="93.7" x2="1601.6" y2="107.2" stroke="#c29a3c"/><line x1="1601.6" y1="107.2" x2="1605.9" y2="120.8" stroke="#b0b4de"/><line x1="1627.8" y1="142.6" x2="1616.8" y2="131.7" stroke="#c29a3c"/><line x1="1616.8" y1="131.7" x2="1605.9" y2="120.8" stroke="#b0b4de"/><line x1="1614.5" y1="88.8" x2="1617.5" y2="103.3" stroke="#c29a3c"/><line x1="1617.5" y1="103.3" x2="1620.6" y2="117.8" stroke="#b0b4de"/><line x1="1644.6" y1="137.6" x2="1632.6" y2="127.7" stroke="#c29a3c"/><line x1="1632.6" y1="127.7" x2="1620.6" y2="117.8" stroke="#b0b4de"/><line x1="1627.8" y1="142.6" x2="1624.2" y2="130.2" stroke="#c29a3c"/><line x1="1624.2" y1="130.2" x2="1620.6" y2="117.8" stroke="#b0b4de"/><line x1="1631.0" y1="83.0" x2="1635.3" y2="97.5" stroke="#c29a3c"/><line x1="1635.3" y1="97.5" x2="1639.7" y2="112.1" stroke="#b0b4de"/><line x1="1662.1" y1="133.6" x2="1650.9" y2="122.9" stroke="#c29a3c"/><line x1="1650.9" y1="122.9" x2="1639.7" y2="112.1" stroke="#b0b4de"/><line x1="1644.6" y1="137.6" x2="1642.2" y2="124.9" stroke="#c29a3c"/><line x1="1642.2" y1="124.9" x2="1639.7" y2="112.1" stroke="#b0b4de"/><line x1="1505.5" y1="140.0" x2="1516.4" y2="151.1" stroke="#c29a3c"/><line x1="1516.4" y1="151.1" x2="1527.3" y2="162.1" stroke="#b0b4de"/><line x1="1523.0" y1="136.0" x2="1525.2" y2="149.1" stroke="#c29a3c"/><line x1="1525.2" y1="149.1" x2="1527.3" y2="162.1" stroke="#b0b4de"/><line x1="1536.6" y1="190.6" x2="1531.9" y2="176.4" stroke="#c29a3c"/><line x1="1531.9" y1="176.4" x2="1527.3" y2="162.1" stroke="#b0b4de"/><line x1="1523.0" y1="136.0" x2="1534.9" y2="146.1" stroke="#c29a3c"/><line x1="1534.9" y1="146.1" x2="1546.8" y2="156.1" stroke="#b0b4de"/><line x1="1539.8" y1="131.0" x2="1543.3" y2="143.6" stroke="#c29a3c"/><line x1="1543.3" y1="143.6" x2="1546.8" y2="156.1" stroke="#b0b4de"/><line x1="1553.1" y1="184.8" x2="1549.9" y2="170.4" stroke="#c29a3c"/><line x1="1549.9" y1="170.4" x2="1546.8" y2="156.1" stroke="#b0b4de"/><line x1="1539.8" y1="131.0" x2="1550.2" y2="141.4" stroke="#c29a3c"/><line x1="1550.2" y1="141.4" x2="1560.7" y2="151.8" stroke="#b0b4de"/><line x1="1570.3" y1="179.9" x2="1565.5" y2="165.9" stroke="#c29a3c"/><line x1="1565.5" y1="165.9" x2="1560.7" y2="151.8" stroke="#b0b4de"/><line x1="1614.6" y1="185.6" x2="1609.2" y2="174.6" stroke="#c29a3c"/><line x1="1609.2" y1="174.6" x2="1603.7" y2="163.5" stroke="#b0b4de"/><line x1="1597.4" y1="190.9" x2="1600.5" y2="177.2" stroke="#c29a3c"/><line x1="1600.5" y1="177.2" x2="1603.7" y2="163.5" stroke="#b0b4de"/><line x1="1627.8" y1="142.6" x2="1615.8" y2="153.1" stroke="#c29a3c"/><line x1="1615.8" y1="153.1" x2="1603.7" y2="163.5" stroke="#b0b4de"/><line x1="1631.9" y1="181.2" x2="1627.4" y2="169.4" stroke="#c29a3c"/><line x1="1627.4" y1="169.4" x2="1623.0" y2="157.7" stroke="#b0b4de"/><line x1="1614.6" y1="185.6" x2="1618.8" y2="171.7" stroke="#c29a3c"/><line x1="1618.8" y1="171.7" x2="1623.0" y2="157.7" stroke="#b0b4de"/><line x1="1644.6" y1="137.6" x2="1633.8" y2="147.7" stroke="#c29a3c"/><line x1="1633.8" y1="147.7" x2="1623.0" y2="157.7" stroke="#b0b4de"/><line x1="1627.8" y1="142.6" x2="1625.4" y2="150.2" stroke="#c29a3c"/><line x1="1625.4" y1="150.2" x2="1623.0" y2="157.7" stroke="#b0b4de"/><line x1="1631.9" y1="181.2" x2="1634.8" y2="167.6" stroke="#c29a3c"/><line x1="1634.8" y1="167.6" x2="1637.8" y2="154.0" stroke="#b0b4de"/><line x1="1662.1" y1="133.6" x2="1649.9" y2="143.8" stroke="#c29a3c"/><line x1="1649.9" y1="143.8" x2="1637.8" y2="154.0" stroke="#b0b4de"/><line x1="1644.6" y1="137.6" x2="1641.2" y2="145.8" stroke="#c29a3c"/><line x1="1641.2" y1="145.8" x2="1637.8" y2="154.0" stroke="#b0b4de"/><line x1="1627.8" y1="142.6" x2="1632.8" y2="148.3" stroke="#c29a3c"/><line x1="1632.8" y1="148.3" x2="1637.8" y2="154.0" stroke="#b0b4de"/><line x1="1536.6" y1="190.6" x2="1522.3" y2="193.4" stroke="#c29a3c"/><line x1="1522.3" y1="193.4" x2="1508.1" y2="196.2" stroke="#b0b4de"/><line x1="1536.6" y1="190.6" x2="1528.8" y2="190.9" stroke="#c29a3c"/><line x1="1528.8" y1="190.9" x2="1521.0" y2="191.1" stroke="#b0b4de"/><line x1="1570.3" y1="179.9" x2="1560.1" y2="180.6" stroke="#c29a3c"/><line x1="1560.1" y1="180.6" x2="1549.9" y2="181.2" stroke="#b0b4de"/><line x1="1553.1" y1="184.8" x2="1551.5" y2="183.0" stroke="#c29a3c"/><line x1="1551.5" y1="183.0" x2="1549.9" y2="181.2" stroke="#b0b4de"/><line x1="1536.6" y1="190.6" x2="1543.2" y2="185.9" stroke="#c29a3c"/><line x1="1543.2" y1="185.9" x2="1549.9" y2="181.2" stroke="#b0b4de"/><line x1="1570.3" y1="179.9" x2="1567.7" y2="182.5" stroke="#c29a3c"/><line x1="1567.7" y1="182.5" x2="1565.0" y2="185.0" stroke="#b0b4de"/><line x1="1553.1" y1="184.8" x2="1559.0" y2="184.9" stroke="#c29a3c"/><line x1="1559.0" y1="184.9" x2="1565.0" y2="185.0" stroke="#b0b4de"/><line x1="1536.6" y1="190.6" x2="1550.8" y2="187.8" stroke="#c29a3c"/><line x1="1550.8" y1="187.8" x2="1565.0" y2="185.0" stroke="#b0b4de"/><line x1="1597.4" y1="190.9" x2="1591.2" y2="184.5" stroke="#c29a3c"/><line x1="1591.2" y1="184.5" x2="1584.9" y2="178.1" stroke="#b0b4de"/><line x1="1570.3" y1="179.9" x2="1577.6" y2="179.0" stroke="#c29a3c"/><line x1="1577.6" y1="179.0" x2="1584.9" y2="178.1" stroke="#b0b4de"/><line x1="1599.8" y1="230.3" x2="1615.2" y2="214.4" stroke="#c29a3c"/><line x1="1615.2" y1="214.4" x2="1630.5" y2="198.6" stroke="#b0b4de"/><line x1="1631.9" y1="181.2" x2="1631.2" y2="189.9" stroke="#c29a3c"/><line x1="1631.2" y1="189.9" x2="1630.5" y2="198.6" stroke="#b0b4de"/><line x1="1614.6" y1="185.6" x2="1622.5" y2="192.1" stroke="#c29a3c"/><line x1="1622.5" y1="192.1" x2="1630.5" y2="198.6" stroke="#b0b4de"/><line x1="1631.9" y1="181.2" x2="1637.4" y2="187.8" stroke="#c29a3c"/><line x1="1637.4" y1="187.8" x2="1643.0" y2="194.3" stroke="#b0b4de"/><line x1="1614.6" y1="185.6" x2="1628.8" y2="190.0" stroke="#c29a3c"/><line x1="1628.8" y1="190.0" x2="1643.0" y2="194.3" stroke="#b0b4de"/><line x1="1566.7" y1="240.1" x2="1556.1" y2="229.4" stroke="#c29a3c"/><line x1="1556.1" y1="229.4" x2="1545.5" y2="218.6" stroke="#b0b4de"/><line x1="1536.6" y1="190.6" x2="1541.0" y2="204.6" stroke="#c29a3c"/><line x1="1541.0" y1="204.6" x2="1545.5" y2="218.6" stroke="#b0b4de"/><line x1="1566.7" y1="240.1" x2="1562.8" y2="227.2" stroke="#c29a3c"/><line x1="1562.8" y1="227.2" x2="1559.0" y2="214.3" stroke="#b0b4de"/><line x1="1553.1" y1="184.8" x2="1556.0" y2="199.6" stroke="#c29a3c"/><line x1="1556.0" y1="199.6" x2="1559.0" y2="214.3" stroke="#b0b4de"/><line x1="1583.9" y1="235.2" x2="1580.9" y2="221.9" stroke="#c29a3c"/><line x1="1580.9" y1="221.9" x2="1578.0" y2="208.7" stroke="#b0b4de"/><line x1="1597.4" y1="190.9" x2="1587.7" y2="199.8" stroke="#c29a3c"/><line x1="1587.7" y1="199.8" x2="1578.0" y2="208.7" stroke="#b0b4de"/><line x1="1570.3" y1="179.9" x2="1574.2" y2="194.3" stroke="#c29a3c"/><line x1="1574.2" y1="194.3" x2="1578.0" y2="208.7" stroke="#b0b4de"/><line x1="1599.8" y1="230.3" x2="1595.7" y2="224.7" stroke="#c29a3c"/><line x1="1595.7" y1="224.7" x2="1591.5" y2="219.1" stroke="#b0b4de"/><line x1="1583.9" y1="235.2" x2="1587.7" y2="227.2" stroke="#c29a3c"/><line x1="1587.7" y1="227.2" x2="1591.5" y2="219.1" stroke="#b0b4de"/><line x1="1566.7" y1="240.1" x2="1579.1" y2="229.6" stroke="#c29a3c"/><line x1="1579.1" y1="229.6" x2="1591.5" y2="219.1" stroke="#b0b4de"/><line x1="1597.4" y1="190.9" x2="1594.4" y2="205.0" stroke="#c29a3c"/><line x1="1594.4" y1="205.0" x2="1591.5" y2="219.1" stroke="#b0b4de"/><line x1="1599.8" y1="230.3" x2="1602.3" y2="222.9" stroke="#c29a3c"/><line x1="1602.3" y1="222.9" x2="1604.9" y2="215.5" stroke="#b0b4de"/><line x1="1583.9" y1="235.2" x2="1594.4" y2="225.4" stroke="#c29a3c"/><line x1="1594.4" y1="225.4" x2="1604.9" y2="215.5" stroke="#b0b4de"/><line x1="1597.4" y1="190.9" x2="1601.2" y2="203.2" stroke="#c29a3c"/><line x1="1601.2" y1="203.2" x2="1604.9" y2="215.5" stroke="#b0b4de"/><line x1="1599.8" y1="230.3" x2="1611.7" y2="220.2" stroke="#c29a3c"/><line x1="1611.7" y1="220.2" x2="1623.6" y2="210.2" stroke="#b0b4de"/><line x1="1614.6" y1="185.6" x2="1619.1" y2="197.9" stroke="#c29a3c"/><line x1="1619.1" y1="197.9" x2="1623.6" y2="210.2" stroke="#b0b4de"/><line x1="1599.8" y1="230.3" x2="1613.0" y2="229.2" stroke="#c29a3c"/><line x1="1613.0" y1="229.2" x2="1626.3" y2="228.0" stroke="#b0b4de"/><line x1="1631.9" y1="181.2" x2="1629.1" y2="204.6" stroke="#c29a3c"/><line x1="1629.1" y1="204.6" x2="1626.3" y2="228.0" stroke="#b0b4de"/><line x1="1599.8" y1="230.3" x2="1588.2" y2="236.5" stroke="#c29a3c"/><line x1="1588.2" y1="236.5" x2="1576.5" y2="242.7" stroke="#b0b4de"/><line x1="1583.9" y1="235.2" x2="1580.2" y2="238.9" stroke="#c29a3c"/><line x1="1580.2" y1="238.9" x2="1576.5" y2="242.7" stroke="#b0b4de"/><line x1="1566.7" y1="240.1" x2="1571.6" y2="241.4" stroke="#c29a3c"/><line x1="1571.6" y1="241.4" x2="1576.5" y2="242.7" stroke="#b0b4de"/></g><line x1="1514.5" y1="39.6" x2="1509.5" y2="34.4" stroke="#e01818" stroke-width="2.8"/><line x1="1509.5" y1="34.4" x2="1504.5" y2="29.1" stroke="#ecc8c8" stroke-width="2.8"/><line x1="1514.5" y1="39.6" x2="1523.5" y2="39.4" stroke="#e01818" stroke-width="2.8"/><line x1="1523.5" y1="39.4" x2="1532.5" y2="39.1" stroke="#ecc8c8" stroke-width="2.8"/><circle cx="1504.5" cy="29.1" r="2.8" fill="#fbf6f6" stroke="#c0a8a8" stroke-width="1.3"/><circle cx="1532.5" cy="39.1" r="2.8" fill="#fbf6f6" stroke="#c0a8a8" stroke-width="1.3"/><circle cx="1514.5" cy="39.6" r="4.6" fill="url(#gO)"/><line x1="1531.0" y1="34.9" x2="1526.0" y2="29.6" stroke="#e01818" stroke-width="2.8"/><line x1="1526.0" y1="29.6" x2="1521.0" y2="24.4" stroke="#ecc8c8" stroke-width="2.8"/><line x1="1531.0" y1="34.9" x2="1540.0" y2="34.6" stroke="#e01818" stroke-width="2.8"/><line x1="1540.0" y1="34.6" x2="1549.0" y2="34.4" stroke="#ecc8c8" stroke-width="2.8"/><circle cx="1521.0" cy="24.4" r="2.8" fill="#fbf6f6" stroke="#c0a8a8" stroke-width="1.3"/><circle cx="1549.0" cy="34.4" r="2.8" fill="#fbf6f6" stroke="#c0a8a8" stroke-width="1.3"/><circle cx="1531.0" cy="34.9" r="4.6" fill="url(#gO)"/><line x1="1637.1" y1="43.5" x2="1632.1" y2="38.2" stroke="#e01818" stroke-width="2.8"/><line x1="1632.1" y1="38.2" x2="1627.1" y2="33.0" stroke="#ecc8c8" stroke-width="2.8"/><line x1="1637.1" y1="43.5" x2="1646.1" y2="43.2" stroke="#e01818" stroke-width="2.8"/><line x1="1646.1" y1="43.2" x2="1655.1" y2="43.0" stroke="#ecc8c8" stroke-width="2.8"/><circle cx="1627.1" cy="33.0" r="2.8" fill="#fbf6f6" stroke="#c0a8a8" stroke-width="1.3"/><circle cx="1655.1" cy="43.0" r="2.8" fill="#fbf6f6" stroke="#c0a8a8" stroke-width="1.3"/><circle cx="1637.1" cy="43.5" r="4.6" fill="url(#gO)"/><line x1="1653.6" y1="38.8" x2="1648.6" y2="33.5" stroke="#e01818" stroke-width="2.8"/><line x1="1648.6" y1="33.5" x2="1643.6" y2="28.3" stroke="#ecc8c8" stroke-width="2.8"/><line x1="1653.6" y1="38.8" x2="1662.6" y2="38.5" stroke="#e01818" stroke-width="2.8"/><line x1="1662.6" y1="38.5" x2="1671.6" y2="38.3" stroke="#ecc8c8" stroke-width="2.8"/><circle cx="1643.6" cy="28.3" r="2.8" fill="#fbf6f6" stroke="#c0a8a8" stroke-width="1.3"/><circle cx="1671.6" cy="38.3" r="2.8" fill="#fbf6f6" stroke="#c0a8a8" stroke-width="1.3"/><circle cx="1653.6" cy="38.8" r="4.6" fill="url(#gO)"/><line x1="1575.5" y1="139.4" x2="1570.5" y2="134.2" stroke="#e01818" stroke-width="2.8"/><line x1="1570.5" y1="134.2" x2="1565.5" y2="128.9" stroke="#ecc8c8" stroke-width="2.8"/><line x1="1575.5" y1="139.4" x2="1584.5" y2="139.2" stroke="#e01818" stroke-width="2.8"/><line x1="1584.5" y1="139.2" x2="1593.5" y2="138.9" stroke="#ecc8c8" stroke-width="2.8"/><circle cx="1565.5" cy="128.9" r="2.8" fill="#fbf6f6" stroke="#c0a8a8" stroke-width="1.3"/><circle cx="1593.5" cy="138.9" r="2.8" fill="#fbf6f6" stroke="#c0a8a8" stroke-width="1.3"/><circle cx="1575.5" cy="139.4" r="4.6" fill="url(#gO)"/><line x1="1592.0" y1="134.7" x2="1587.0" y2="129.5" stroke="#e01818" stroke-width="2.8"/><line x1="1587.0" y1="129.5" x2="1582.0" y2="124.2" stroke="#ecc8c8" stroke-width="2.8"/><line x1="1592.0" y1="134.7" x2="1601.0" y2="134.5" stroke="#e01818" stroke-width="2.8"/><line x1="1601.0" y1="134.5" x2="1610.0" y2="134.2" stroke="#ecc8c8" stroke-width="2.8"/><circle cx="1582.0" cy="124.2" r="2.8" fill="#fbf6f6" stroke="#c0a8a8" stroke-width="1.3"/><circle cx="1610.0" cy="134.2" r="2.8" fill="#fbf6f6" stroke="#c0a8a8" stroke-width="1.3"/><circle cx="1592.0" cy="134.7" r="4.6" fill="url(#gO)"/><line x1="1514.5" y1="236.4" x2="1509.5" y2="231.2" stroke="#e01818" stroke-width="2.8"/><line x1="1509.5" y1="231.2" x2="1504.5" y2="225.9" stroke="#ecc8c8" stroke-width="2.8"/><line x1="1514.5" y1="236.4" x2="1523.5" y2="236.2" stroke="#e01818" stroke-width="2.8"/><line x1="1523.5" y1="236.2" x2="1532.5" y2="235.9" stroke="#ecc8c8" stroke-width="2.8"/><circle cx="1504.5" cy="225.9" r="2.8" fill="#fbf6f6" stroke="#c0a8a8" stroke-width="1.3"/><circle cx="1532.5" cy="235.9" r="2.8" fill="#fbf6f6" stroke="#c0a8a8" stroke-width="1.3"/><circle cx="1514.5" cy="236.4" r="4.6" fill="url(#gO)"/><line x1="1531.0" y1="231.7" x2="1526.0" y2="226.5" stroke="#e01818" stroke-width="2.8"/><line x1="1526.0" y1="226.5" x2="1521.0" y2="221.2" stroke="#ecc8c8" stroke-width="2.8"/><line x1="1531.0" y1="231.7" x2="1540.0" y2="231.5" stroke="#e01818" stroke-width="2.8"/><line x1="1540.0" y1="231.5" x2="1549.0" y2="231.2" stroke="#ecc8c8" stroke-width="2.8"/><circle cx="1521.0" cy="221.2" r="2.8" fill="#fbf6f6" stroke="#c0a8a8" stroke-width="1.3"/><circle cx="1549.0" cy="231.2" r="2.8" fill="#fbf6f6" stroke="#c0a8a8" stroke-width="1.3"/><circle cx="1531.0" cy="231.7" r="4.6" fill="url(#gO)"/><line x1="1637.1" y1="238.0" x2="1632.1" y2="232.8" stroke="#e01818" stroke-width="2.8"/><line x1="1632.1" y1="232.8" x2="1627.1" y2="227.5" stroke="#ecc8c8" stroke-width="2.8"/><line x1="1637.1" y1="238.0" x2="1646.1" y2="237.8" stroke="#e01818" stroke-width="2.8"/><line x1="1646.1" y1="237.8" x2="1655.1" y2="237.5" stroke="#ecc8c8" stroke-width="2.8"/><circle cx="1627.1" cy="227.5" r="2.8" fill="#fbf6f6" stroke="#c0a8a8" stroke-width="1.3"/><circle cx="1655.1" cy="237.5" r="2.8" fill="#fbf6f6" stroke="#c0a8a8" stroke-width="1.3"/><circle cx="1637.1" cy="238.0" r="4.6" fill="url(#gO)"/><line x1="1653.6" y1="233.3" x2="1648.6" y2="228.1" stroke="#e01818" stroke-width="2.8"/><line x1="1648.6" y1="228.1" x2="1643.6" y2="222.8" stroke="#ecc8c8" stroke-width="2.8"/><line x1="1653.6" y1="233.3" x2="1662.6" y2="233.1" stroke="#e01818" stroke-width="2.8"/><line x1="1662.6" y1="233.1" x2="1671.6" y2="232.8" stroke="#ecc8c8" stroke-width="2.8"/><circle cx="1643.6" cy="222.8" r="2.8" fill="#fbf6f6" stroke="#c0a8a8" stroke-width="1.3"/><circle cx="1671.6" cy="232.8" r="2.8" fill="#fbf6f6" stroke="#c0a8a8" stroke-width="1.3"/><circle cx="1653.6" cy="233.3" r="4.6" fill="url(#gO)"/><g fill="#eef0fa" stroke="#8d93c6" stroke-width="1.8"><circle cx="1592.2" cy="29.5" r="3.5"/><circle cx="1525.0" cy="79.0" r="3.5"/><circle cx="1562.1" cy="58.3" r="3.5"/><circle cx="1588.3" cy="65.0" r="3.5"/><circle cx="1607.7" cy="59.4" r="3.5"/><circle cx="1620.3" cy="55.3" r="3.5"/><circle cx="1569.0" cy="99.0" r="3.5"/><circle cx="1582.5" cy="93.7" r="3.5"/><circle cx="1610.9" cy="85.1" r="3.5"/><circle cx="1645.3" cy="82.7" r="3.5"/><circle cx="1660.0" cy="79.0" r="3.5"/><circle cx="1563.3" cy="110.7" r="3.5"/><circle cx="1544.3" cy="116.2" r="3.5"/><circle cx="1530.5" cy="119.8" r="3.5"/><circle cx="1605.9" cy="120.8" r="3.5"/><circle cx="1620.6" cy="117.8" r="3.5"/><circle cx="1639.7" cy="112.1" r="3.5"/><circle cx="1527.3" cy="162.1" r="3.5"/><circle cx="1546.8" cy="156.1" r="3.5"/><circle cx="1560.7" cy="151.8" r="3.5"/><circle cx="1603.7" cy="163.5" r="3.5"/><circle cx="1623.0" cy="157.7" r="3.5"/><circle cx="1637.8" cy="154.0" r="3.5"/><circle cx="1508.1" cy="196.2" r="3.5"/><circle cx="1521.0" cy="191.1" r="3.5"/><circle cx="1549.9" cy="181.2" r="3.5"/><circle cx="1565.0" cy="185.0" r="3.5"/><circle cx="1584.9" cy="178.1" r="3.5"/><circle cx="1630.5" cy="198.6" r="3.5"/><circle cx="1643.0" cy="194.3" r="3.5"/><circle cx="1545.5" cy="218.6" r="3.5"/><circle cx="1559.0" cy="214.3" r="3.5"/><circle cx="1578.0" cy="208.7" r="3.5"/><circle cx="1591.5" cy="219.1" r="3.5"/><circle cx="1604.9" cy="215.5" r="3.5"/><circle cx="1623.6" cy="210.2" r="3.5"/><circle cx="1626.3" cy="228.0" r="3.5"/><circle cx="1576.5" cy="242.7" r="3.5"/></g><circle cx="1567.8" cy="43.3" r="8.2" fill="url(#gFes)"/><circle cx="1583.7" cy="38.4" r="8.2" fill="url(#gFes)"/><circle cx="1600.9" cy="33.5" r="8.2" fill="url(#gFes)"/><circle cx="1535.7" cy="92.4" r="8.2" fill="url(#gFes)"/><circle cx="1553.0" cy="88.0" r="8.2" fill="url(#gMns)"/><circle cx="1570.2" cy="82.7" r="8.2" fill="url(#gFes)"/><circle cx="1597.3" cy="93.7" r="8.2" fill="url(#gFes)"/><circle cx="1614.5" cy="88.8" r="8.2" fill="url(#gFes)"/><circle cx="1505.5" cy="140.0" r="8.2" fill="url(#gFes)"/><circle cx="1523.0" cy="136.0" r="8.2" fill="url(#gFes)"/><circle cx="1539.8" cy="131.0" r="8.2" fill="url(#gFes)"/><circle cx="1599.8" cy="230.3" r="8.2" fill="url(#gFes)"/><circle cx="1583.9" cy="235.2" r="8.2" fill="url(#gFes)"/><circle cx="1566.7" cy="240.1" r="8.2" fill="url(#gFes)"/><circle cx="1614.6" cy="185.6" r="8.2" fill="url(#gFes)"/><circle cx="1597.4" cy="190.9" r="8.2" fill="url(#gFes)"/><circle cx="1536.6" cy="190.6" r="8.2" fill="url(#gFes)"/><circle cx="1662.1" cy="133.6" r="8.2" fill="url(#gFes)"/><circle cx="1644.6" cy="137.6" r="8.2" fill="url(#gFes)"/><circle cx="1627.8" cy="142.6" r="8.2" fill="url(#gFes)"/><text x="1102.5" y="181.5" font-size="21.5" fill="#111" stroke="#111" stroke-width="0.5" text-anchor="start" font-weight="normal" textLength="115.5" lengthAdjust="spacingAndGlyphs" >Band gap</text><text x="1123" y="217" font-size="21.5" fill="#111" stroke="#111" stroke-width="0.5" text-anchor="start" font-weight="normal" textLength="93" lengthAdjust="spacingAndGlyphs" >0.99 eV</text><text x="1231.5" y="266" font-size="21.5" fill="#111" stroke="#111" stroke-width="0.5" text-anchor="start" font-weight="normal" textLength="173.5" lengthAdjust="spacingAndGlyphs" >FeF<tspan font-size="16" dy="7">3</tspan><tspan dy="-7">·0.33H</tspan><tspan font-size="16" dy="7">2</tspan><tspan dy="-7">O</tspan></text><text x="1376" y="128.5" font-size="21.5" fill="#111" stroke="#111" stroke-width="0.5" text-anchor="start" font-weight="normal" textLength="130" lengthAdjust="spacingAndGlyphs" >Mn-doping</text><text x="1409.8" y="219" font-size="21.5" fill="#da1c26" stroke="#da1c26" stroke-width="0.5" text-anchor="start" font-weight="normal" textLength="94.5" lengthAdjust="spacingAndGlyphs" >0.87 eV</text><text x="1447.8" y="269" font-size="21.5" fill="#da1c26" stroke="#da1c26" stroke-width="0.5" text-anchor="start" font-weight="normal" textLength="289.5" lengthAdjust="spacingAndGlyphs" >Fe<tspan font-size="16" dy="7">0.92</tspan><tspan dy="-7">Mn</tspan><tspan font-size="16" dy="7">0.08</tspan><tspan dy="-7">F</tspan><tspan font-size="16" dy="7">3</tspan><tspan dy="-7">·0.33H</tspan><tspan font-size="16" dy="7">2</tspan><tspan dy="-7">O</tspan></text><text x="1663.3" y="175.5" font-size="21.5" fill="#111" stroke="#111" stroke-width="0.5" text-anchor="start" font-weight="normal" textLength="136" lengthAdjust="spacingAndGlyphs" >Ball-milling</text><text x="1668.7" y="201" font-size="21.5" fill="#111" stroke="#111" stroke-width="0.5" text-anchor="start" font-weight="normal" textLength="91.5" lengthAdjust="spacingAndGlyphs" >with AB</text><text x="1131.3" y="344" font-size="21.5" fill="#111" stroke="#111" stroke-width="0.5" text-anchor="start" font-weight="normal" textLength="203.5" lengthAdjust="spacingAndGlyphs" >FeF<tspan font-size="16" dy="7">3</tspan><tspan dy="-7">·0.33H</tspan><tspan font-size="16" dy="7">2</tspan><tspan dy="-7">O/C</tspan></text><text x="1131.3" y="373.6" font-size="21.5" fill="#da1c26" stroke="#da1c26" stroke-width="0.5" text-anchor="start" font-weight="normal" textLength="318.5" lengthAdjust="spacingAndGlyphs" >Fe<tspan font-size="16" dy="7">0.92</tspan><tspan dy="-7">Mn</tspan><tspan font-size="16" dy="7">0.08</tspan><tspan dy="-7">F</tspan><tspan font-size="16" dy="7">3</tspan><tspan dy="-7">·0.33H</tspan><tspan font-size="16" dy="7">2</tspan><tspan dy="-7">O/C</tspan></text><text x="1522" y="375" font-size="21.5" fill="#111" stroke="#111" stroke-width="0.5" text-anchor="start" font-weight="normal" textLength="112.5" lengthAdjust="spacingAndGlyphs" >200 mA g</text><text x="1635" y="363.6" font-size="9.5" fill="#111" stroke="#111" stroke-width="0.3" text-anchor="start" font-weight="normal" textLength="10.5" lengthAdjust="spacingAndGlyphs" >-1</text><text x="1247.3" y="75.5" font-size="21.5" fill="#151525" stroke="#151525" stroke-width="0.5" text-anchor="start" font-weight="normal" textLength="31.5" lengthAdjust="spacingAndGlyphs" >Fe</text><text x="1497.2" y="77.5" font-size="21.5" fill="#b02aa8" stroke="#b02aa8" stroke-width="0.5" text-anchor="start" font-weight="normal" textLength="35" lengthAdjust="spacingAndGlyphs" >Mn</text><circle cx="1109.4" cy="336.3" r="5" fill="url(#gBk)"/><circle cx="1109.4" cy="368.2" r="5.3" fill="url(#gRd)"/><g stroke="#151515" stroke-width="2" fill="none"><line x1="1381" y1="145" x2="1476" y2="145"/><polyline points="1660.7,143.6 1802.4,143.6 1802.4,270"/></g><g fill="#151515"><polygon points="1491,145 1473,140.5 1473,149.5"/><polygon points="1802.4,284.6 1798.2,266.5 1806.6,266.5"/></g></svg></body></html>
